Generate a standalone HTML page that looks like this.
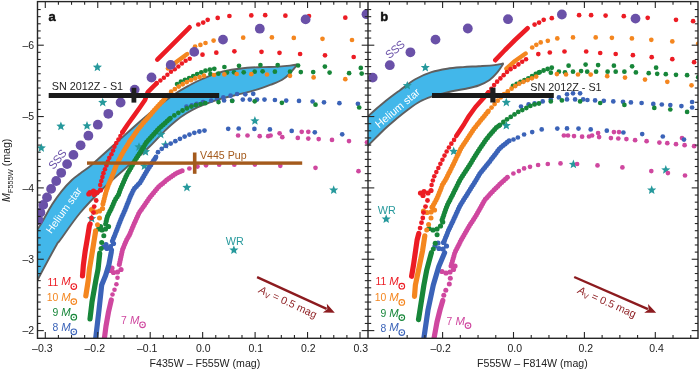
<!DOCTYPE html>
<html><head><meta charset="utf-8"><style>
html,body{margin:0;padding:0;background:#fff;}
body{width:700px;height:371px;overflow:hidden;position:relative;font-family:"Liberation Sans",sans-serif;}
svg{position:absolute;left:0;top:0;will-change:transform;}
text{font-family:"Liberation Sans",sans-serif;}
</style></head><body>
<svg width="700" height="371" viewBox="0 0 700 371">
<defs>
<clipPath id="ca"><rect x="37.5" y="1.6" width="330.5" height="336.7"/></clipPath>
<clipPath id="cb"><rect x="368" y="1.6" width="330" height="336.7"/></clipPath>
</defs>
<rect width="700" height="371" fill="#fff"/>
<g clip-path="url(#ca)">
<path d="M25,246 C27.32,242.87 35.65,231.92 38.9,227.2 C42.15,222.48 42.3,221.48 44.5,217.7 C46.7,213.92 49.27,208.9 52.1,204.5 C54.93,200.1 58.2,195.38 61.5,191.3 C64.8,187.22 68.78,182.97 71.9,180 C75.02,177.03 77.02,175.93 80.2,173.5 C83.38,171.07 87.17,168.57 91,165.4 C94.83,162.23 97.57,159.55 103.2,154.5 C108.83,149.45 118.67,140.6 124.8,135.1 C130.93,129.6 134.47,126.27 140,121.5 C145.53,116.73 151.95,111.25 158,106.5 C164.05,101.75 170.97,96.58 176.3,93 C181.63,89.42 186.05,87.17 190,85 C193.95,82.83 195.72,81.88 200,80 C204.28,78.12 210.47,75.4 215.7,73.7 C220.93,72 226.15,70.8 231.4,69.8 C236.65,68.8 241.95,68.15 247.2,67.7 C252.45,67.25 257.67,67.28 262.9,67.1 C268.13,66.92 274.08,66.85 278.6,66.6 C283.12,66.35 286.93,65.95 290,65.6 C293.07,65.25 295.83,64.68 297,64.5 L297,65 C295.77,66.45 292.13,71.2 289.6,73.7 C287.07,76.2 284.93,78.17 281.8,80 C278.67,81.83 275.27,83 270.8,84.7 C266.33,86.4 260.25,88.62 255,90.2 C249.75,91.78 245.32,92.68 239.3,94.2 C233.28,95.72 224.08,97.82 218.9,99.3 C213.72,100.78 211.78,101.75 208.2,103.1 C204.62,104.45 201,105.7 197.4,107.4 C193.8,109.1 190.2,111.05 186.6,113.3 C183,115.55 179.4,118.02 175.8,120.9 C172.2,123.78 169.62,126.08 165,130.6 C160.38,135.12 154.72,141.68 148.1,148 C141.48,154.32 132.88,161.67 125.3,168.5 C117.72,175.33 110.15,181.58 102.6,189 C95.05,196.42 87.07,204.5 80,213 C72.93,221.5 64.17,234.58 60.2,240 C56.23,245.42 60.07,238.67 56.2,245.5 C52.33,252.33 41.37,272.75 37,281 C32.63,289.25 31.17,292.67 30,295 Z" fill="#42b7ea" stroke="#5f5f5f" stroke-width="1.9" stroke-linejoin="round"/>
</g>
<g clip-path="url(#ca)">
<polygon points="97.4,62.5 98.64,65.59 101.97,65.82 99.41,67.95 100.22,71.18 97.4,69.41 94.58,71.18 95.39,67.95 92.83,65.82 96.16,65.59" fill="#26999c"/>
<polygon points="102.7,97.7 103.94,100.79 107.27,101.02 104.71,103.15 105.52,106.38 102.7,104.61 99.88,106.38 100.69,103.15 98.13,101.02 101.46,100.79" fill="#26999c"/>
<polygon points="60.9,121.5 62.14,124.59 65.47,124.82 62.91,126.95 63.72,130.18 60.9,128.41 58.08,130.18 58.89,126.95 56.33,124.82 59.66,124.59" fill="#26999c"/>
<polygon points="87,121.1 88.24,124.19 91.57,124.42 89.01,126.55 89.82,129.78 87,128.01 84.18,129.78 84.99,126.55 82.43,124.42 85.76,124.19" fill="#26999c"/>
<polygon points="41.3,143.2 42.54,146.29 45.87,146.52 43.31,148.65 44.12,151.88 41.3,150.11 38.48,151.88 39.29,148.65 36.73,146.52 40.06,146.29" fill="#26999c"/>
<polygon points="145.5,147 146.74,150.09 150.07,150.32 147.51,152.45 148.32,155.68 145.5,153.91 142.68,155.68 143.49,152.45 140.93,150.32 144.26,150.09" fill="#26999c"/>
<polygon points="139,142.2 140.24,145.29 143.57,145.52 141.01,147.65 141.82,150.88 139,149.11 136.18,150.88 136.99,147.65 134.43,145.52 137.76,145.29" fill="#26999c"/>
<polygon points="144.4,161.4 145.64,164.49 148.97,164.72 146.41,166.85 147.22,170.08 144.4,168.31 141.58,170.08 142.39,166.85 139.83,164.72 143.16,164.49" fill="#26999c"/>
<polygon points="160.8,129.7 162.04,132.79 165.37,133.02 162.81,135.15 163.62,138.38 160.8,136.61 157.98,138.38 158.79,135.15 156.23,133.02 159.56,132.79" fill="#26999c"/>
<polygon points="165.5,140.1 166.74,143.19 170.07,143.42 167.51,145.55 168.32,148.78 165.5,147.01 162.68,148.78 163.49,145.55 160.93,143.42 164.26,143.19" fill="#26999c"/>
<polygon points="254.9,116.1 256.14,119.19 259.47,119.42 256.91,121.55 257.72,124.78 254.9,123.01 252.08,124.78 252.89,121.55 250.33,119.42 253.66,119.19" fill="#26999c"/>
<polygon points="333.7,185.3 334.94,188.39 338.27,188.62 335.71,190.75 336.52,193.98 333.7,192.21 330.88,193.98 331.69,190.75 329.13,188.62 332.46,188.39" fill="#26999c"/>
<polygon points="186.9,182.7 188.14,185.79 191.47,186.02 188.91,188.15 189.72,191.38 186.9,189.61 184.08,191.38 184.89,188.15 182.33,186.02 185.66,185.79" fill="#26999c"/>
<polygon points="233.9,245.3 235.14,248.39 238.47,248.62 235.91,250.75 236.72,253.98 233.9,252.21 231.08,253.98 231.89,250.75 229.33,248.62 232.66,248.39" fill="#26999c"/>
<polygon points="91.7,213.9 92.94,216.99 96.27,217.22 93.71,219.35 94.52,222.58 91.7,220.81 88.88,222.58 89.69,219.35 87.13,217.22 90.46,216.99" fill="#26999c"/>
<polyline points="104.2,340 106,326 108.5,312 111.3,300" fill="none" stroke="#cf479f" stroke-width="5.2" stroke-linecap="round" stroke-linejoin="round"/>
<circle cx="112.5" cy="294.5" r="2.3" fill="#cf479f"/>
<circle cx="114.5" cy="289.8" r="2.3" fill="#cf479f"/>
<circle cx="116.4" cy="284.2" r="2.3" fill="#cf479f"/>
<circle cx="117.5" cy="277.7" r="2.3" fill="#cf479f"/>
<circle cx="110" cy="270.5" r="2.6" fill="#cf479f"/>
<circle cx="113.5" cy="272.5" r="2.6" fill="#cf479f"/>
<circle cx="117.5" cy="272" r="2.6" fill="#cf479f"/>
<circle cx="121" cy="269.5" r="2.6" fill="#cf479f"/>
<circle cx="112" cy="268" r="2.6" fill="#cf479f"/>
<circle cx="119.3" cy="264.6" r="2.5" fill="#cf479f"/>
<circle cx="119.84" cy="262.06" r="2.5" fill="#cf479f"/>
<circle cx="120.38" cy="259.51" r="2.5" fill="#cf479f"/>
<circle cx="120.92" cy="256.97" r="2.5" fill="#cf479f"/>
<circle cx="121.46" cy="254.43" r="2.5" fill="#cf479f"/>
<circle cx="122" cy="251.88" r="2.5" fill="#cf479f"/>
<circle cx="122.65" cy="249.37" r="2.5" fill="#cf479f"/>
<circle cx="123.62" cy="246.96" r="2.5" fill="#cf479f"/>
<circle cx="124.58" cy="244.55" r="2.5" fill="#cf479f"/>
<circle cx="125.55" cy="242.13" r="2.5" fill="#cf479f"/>
<circle cx="126.68" cy="239.8" r="2.5" fill="#cf479f"/>
<circle cx="127.96" cy="237.54" r="2.5" fill="#cf479f"/>
<circle cx="129.24" cy="235.27" r="2.5" fill="#cf479f"/>
<circle cx="130.28" cy="232.89" r="2.5" fill="#cf479f"/>
<circle cx="131.28" cy="230.49" r="2.5" fill="#cf479f"/>
<circle cx="132.29" cy="228.09" r="2.5" fill="#cf479f"/>
<circle cx="133.29" cy="225.7" r="2.5" fill="#cf479f"/>
<circle cx="134.32" cy="223.31" r="2.5" fill="#cf479f"/>
<circle cx="135.39" cy="220.94" r="2.5" fill="#cf479f"/>
<circle cx="136.47" cy="218.57" r="2.5" fill="#cf479f"/>
<circle cx="137.55" cy="216.21" r="2.5" fill="#cf479f"/>
<circle cx="138.63" cy="213.84" r="2.5" fill="#cf479f"/>
<circle cx="139.94" cy="211.61" r="2.5" fill="#cf479f"/>
<circle cx="141.45" cy="209.49" r="2.5" fill="#cf479f"/>
<circle cx="142.95" cy="207.37" r="2.5" fill="#cf479f"/>
<circle cx="144.43" cy="205.23" r="2.5" fill="#cf479f"/>
<circle cx="145.88" cy="203.08" r="2.5" fill="#cf479f"/>
<circle cx="147.34" cy="200.93" r="2.5" fill="#cf479f"/>
<circle cx="148.8" cy="198.77" r="2.5" fill="#cf479f"/>
<circle cx="150.29" cy="196.65" r="2.5" fill="#cf479f"/>
<circle cx="151.95" cy="194.64" r="2.5" fill="#cf479f"/>
<circle cx="153.61" cy="192.64" r="2.5" fill="#cf479f"/>
<circle cx="155.26" cy="190.63" r="2.5" fill="#cf479f"/>
<circle cx="156.92" cy="188.63" r="2.5" fill="#cf479f"/>
<circle cx="158.67" cy="186.72" r="2.5" fill="#cf479f"/>
<circle cx="160.67" cy="185.06" r="2.5" fill="#cf479f"/>
<circle cx="162.66" cy="183.39" r="2.5" fill="#cf479f"/>
<circle cx="164.66" cy="181.72" r="2.5" fill="#cf479f"/>
<circle cx="166.65" cy="180.06" r="2.5" fill="#cf479f"/>
<circle cx="168.71" cy="178.47" r="2.5" fill="#cf479f"/>
<circle cx="170.85" cy="176.99" r="2.5" fill="#cf479f"/>
<circle cx="172.99" cy="175.51" r="2.5" fill="#cf479f"/>
<circle cx="175.13" cy="174.03" r="2.5" fill="#cf479f"/>
<circle cx="177.41" cy="172.82" r="2.5" fill="#cf479f"/>
<circle cx="179.78" cy="171.75" r="2.5" fill="#cf479f"/>
<circle cx="182.15" cy="170.67" r="2.5" fill="#cf479f"/>
<circle cx="189.4" cy="168.5" r="2.35" fill="#cf479f"/>
<circle cx="197.5" cy="166.6" r="2.35" fill="#cf479f"/>
<circle cx="206" cy="165.3" r="2.35" fill="#cf479f"/>
<circle cx="219.2" cy="164.7" r="2.35" fill="#cf479f"/>
<circle cx="234.3" cy="164.7" r="2.35" fill="#cf479f"/>
<circle cx="254.9" cy="164.6" r="2.35" fill="#cf479f"/>
<circle cx="280.3" cy="165.8" r="2.35" fill="#cf479f"/>
<circle cx="315.5" cy="167.8" r="2.35" fill="#cf479f"/>
<circle cx="358.5" cy="171.2" r="2.35" fill="#cf479f"/>
<circle cx="238.1" cy="135.5" r="2.35" fill="#cf479f"/>
<circle cx="247.5" cy="135.5" r="2.35" fill="#cf479f"/>
<circle cx="259.7" cy="136.2" r="2.35" fill="#cf479f"/>
<circle cx="268.2" cy="136.2" r="2.35" fill="#cf479f"/>
<circle cx="270.6" cy="135.5" r="2.35" fill="#cf479f"/>
<circle cx="279.6" cy="133.3" r="2.35" fill="#cf479f"/>
<circle cx="282.3" cy="137.2" r="2.35" fill="#cf479f"/>
<circle cx="297.8" cy="137.9" r="2.35" fill="#cf479f"/>
<circle cx="301.7" cy="131.8" r="2.35" fill="#cf479f"/>
<circle cx="308.3" cy="131.8" r="2.35" fill="#cf479f"/>
<circle cx="308.3" cy="138.6" r="2.35" fill="#cf479f"/>
<circle cx="318.7" cy="139.1" r="2.35" fill="#cf479f"/>
<circle cx="332" cy="139.9" r="2.35" fill="#cf479f"/>
<circle cx="349" cy="141.1" r="2.35" fill="#cf479f"/>
<circle cx="367" cy="142.3" r="2.35" fill="#cf479f"/>
<polyline points="95.5,340 99,310 101.7,285 105.6,275.5 108.9,264.8 111.2,252.5" fill="none" stroke="#3b63b8" stroke-width="5.2" stroke-linecap="round" stroke-linejoin="round"/>
<circle cx="103.5" cy="247" r="2.6" fill="#3b63b8"/>
<circle cx="107" cy="248.5" r="2.6" fill="#3b63b8"/>
<circle cx="110.5" cy="246.5" r="2.6" fill="#3b63b8"/>
<circle cx="113.5" cy="243.5" r="2.6" fill="#3b63b8"/>
<circle cx="106" cy="244.5" r="2.6" fill="#3b63b8"/>
<circle cx="111.5" cy="250" r="2.6" fill="#3b63b8"/>
<circle cx="112.4" cy="241" r="2.5" fill="#3b63b8"/>
<circle cx="113.37" cy="238.59" r="2.5" fill="#3b63b8"/>
<circle cx="114.33" cy="236.17" r="2.5" fill="#3b63b8"/>
<circle cx="115.3" cy="233.76" r="2.5" fill="#3b63b8"/>
<circle cx="116.25" cy="231.34" r="2.5" fill="#3b63b8"/>
<circle cx="117.18" cy="228.91" r="2.5" fill="#3b63b8"/>
<circle cx="118.11" cy="226.48" r="2.5" fill="#3b63b8"/>
<circle cx="119.04" cy="224.06" r="2.5" fill="#3b63b8"/>
<circle cx="119.98" cy="221.63" r="2.5" fill="#3b63b8"/>
<circle cx="120.94" cy="219.22" r="2.5" fill="#3b63b8"/>
<circle cx="121.99" cy="216.84" r="2.5" fill="#3b63b8"/>
<circle cx="123.04" cy="214.46" r="2.5" fill="#3b63b8"/>
<circle cx="124.09" cy="212.08" r="2.5" fill="#3b63b8"/>
<circle cx="125.12" cy="209.69" r="2.5" fill="#3b63b8"/>
<circle cx="126.09" cy="207.28" r="2.5" fill="#3b63b8"/>
<circle cx="127.05" cy="204.87" r="2.5" fill="#3b63b8"/>
<circle cx="128.02" cy="202.45" r="2.5" fill="#3b63b8"/>
<circle cx="128.99" cy="200.04" r="2.5" fill="#3b63b8"/>
<circle cx="129.95" cy="197.62" r="2.5" fill="#3b63b8"/>
<circle cx="130.92" cy="195.21" r="2.5" fill="#3b63b8"/>
<circle cx="132.06" cy="192.88" r="2.5" fill="#3b63b8"/>
<circle cx="133.22" cy="190.55" r="2.5" fill="#3b63b8"/>
<circle cx="134.59" cy="188.37" r="2.5" fill="#3b63b8"/>
<circle cx="136.37" cy="186.47" r="2.5" fill="#3b63b8"/>
<circle cx="138.15" cy="184.57" r="2.5" fill="#3b63b8"/>
<circle cx="139.93" cy="182.68" r="2.5" fill="#3b63b8"/>
<circle cx="141.26" cy="180.45" r="2.5" fill="#3b63b8"/>
<circle cx="142.58" cy="178.21" r="2.5" fill="#3b63b8"/>
<circle cx="143.89" cy="175.96" r="2.5" fill="#3b63b8"/>
<circle cx="145.21" cy="173.72" r="2.5" fill="#3b63b8"/>
<circle cx="146.52" cy="171.48" r="2.5" fill="#3b63b8"/>
<circle cx="147.92" cy="169.28" r="2.5" fill="#3b63b8"/>
<circle cx="149.33" cy="167.1" r="2.5" fill="#3b63b8"/>
<circle cx="150.75" cy="164.92" r="2.5" fill="#3b63b8"/>
<circle cx="152.17" cy="162.75" r="2.5" fill="#3b63b8"/>
<circle cx="153.61" cy="160.58" r="2.5" fill="#3b63b8"/>
<circle cx="155.05" cy="158.42" r="2.5" fill="#3b63b8"/>
<circle cx="156" cy="157" r="2.4" fill="#3b63b8"/>
<circle cx="157.99" cy="152.2" r="2.4" fill="#3b63b8"/>
<circle cx="161.76" cy="148.81" r="2.4" fill="#3b63b8"/>
<circle cx="166.09" cy="145.95" r="2.4" fill="#3b63b8"/>
<circle cx="170.73" cy="143.6" r="2.4" fill="#3b63b8"/>
<circle cx="175.34" cy="141.2" r="2.4" fill="#3b63b8"/>
<circle cx="179.95" cy="138.79" r="2.4" fill="#3b63b8"/>
<circle cx="184.65" cy="136.57" r="2.4" fill="#3b63b8"/>
<circle cx="189.46" cy="134.6" r="2.4" fill="#3b63b8"/>
<circle cx="194.34" cy="132.82" r="2.4" fill="#3b63b8"/>
<circle cx="199.36" cy="131.51" r="2.4" fill="#3b63b8"/>
<circle cx="204.48" cy="130.61" r="2.4" fill="#3b63b8"/>
<circle cx="228.2" cy="128.8" r="2.35" fill="#3b63b8"/>
<circle cx="238.7" cy="128.5" r="2.35" fill="#3b63b8"/>
<circle cx="254.4" cy="128.9" r="2.35" fill="#3b63b8"/>
<circle cx="269.9" cy="129.4" r="2.35" fill="#3b63b8"/>
<circle cx="291.7" cy="130.9" r="2.35" fill="#3b63b8"/>
<circle cx="314.8" cy="132.3" r="2.35" fill="#3b63b8"/>
<circle cx="342.2" cy="134.3" r="2.35" fill="#3b63b8"/>
<circle cx="186.5" cy="106.5" r="2.35" fill="#3b63b8"/>
<circle cx="191.8" cy="105.4" r="2.35" fill="#3b63b8"/>
<circle cx="196.6" cy="103.8" r="2.35" fill="#3b63b8"/>
<circle cx="203.1" cy="102.1" r="2.35" fill="#3b63b8"/>
<circle cx="211.2" cy="100.5" r="2.35" fill="#3b63b8"/>
<circle cx="217" cy="99" r="2.35" fill="#3b63b8"/>
<circle cx="223.3" cy="97.3" r="2.35" fill="#3b63b8"/>
<circle cx="230.6" cy="95.7" r="2.35" fill="#3b63b8"/>
<circle cx="237.1" cy="94" r="2.35" fill="#3b63b8"/>
<circle cx="245.3" cy="94.3" r="2.35" fill="#3b63b8"/>
<circle cx="253.2" cy="93.8" r="2.35" fill="#3b63b8"/>
<circle cx="224.1" cy="100.5" r="2.35" fill="#3b63b8"/>
<circle cx="232.2" cy="100.5" r="2.35" fill="#3b63b8"/>
<circle cx="242.8" cy="99.6" r="2.35" fill="#3b63b8"/>
<circle cx="249.8" cy="99.6" r="2.35" fill="#3b63b8"/>
<circle cx="257" cy="99.6" r="2.35" fill="#3b63b8"/>
<circle cx="264.5" cy="99.6" r="2.35" fill="#3b63b8"/>
<circle cx="274.9" cy="100" r="2.35" fill="#3b63b8"/>
<circle cx="286.2" cy="100.6" r="2.35" fill="#3b63b8"/>
<circle cx="299" cy="100.9" r="2.35" fill="#3b63b8"/>
<circle cx="312.6" cy="101.5" r="2.35" fill="#3b63b8"/>
<circle cx="324" cy="102.3" r="2.35" fill="#3b63b8"/>
<circle cx="339.4" cy="103.2" r="2.35" fill="#3b63b8"/>
<circle cx="357.9" cy="103.8" r="2.35" fill="#3b63b8"/>
<polyline points="90,319 92,302 95.9,280 98.1,269.1 99.7,253.2" fill="none" stroke="#178639" stroke-width="5.2" stroke-linecap="round" stroke-linejoin="round"/>
<circle cx="101.1" cy="248.5" r="2.5" fill="#178639"/>
<circle cx="101.7" cy="242.4" r="2.5" fill="#178639"/>
<circle cx="103.8" cy="235.7" r="2.5" fill="#178639"/>
<circle cx="98.5" cy="229" r="2.6" fill="#178639"/>
<circle cx="102" cy="230" r="2.6" fill="#178639"/>
<circle cx="105.5" cy="229" r="2.6" fill="#178639"/>
<circle cx="108.5" cy="226.5" r="2.6" fill="#178639"/>
<circle cx="100.5" cy="226.5" r="2.6" fill="#178639"/>
<circle cx="105.6" cy="224" r="2.5" fill="#178639"/>
<circle cx="106.2" cy="221.37" r="2.5" fill="#178639"/>
<circle cx="106.81" cy="218.74" r="2.5" fill="#178639"/>
<circle cx="107.52" cy="216.15" r="2.5" fill="#178639"/>
<circle cx="108.72" cy="213.72" r="2.5" fill="#178639"/>
<circle cx="109.92" cy="211.3" r="2.5" fill="#178639"/>
<circle cx="111.11" cy="208.88" r="2.5" fill="#178639"/>
<circle cx="112.23" cy="206.43" r="2.5" fill="#178639"/>
<circle cx="113.29" cy="203.94" r="2.5" fill="#178639"/>
<circle cx="114.35" cy="201.46" r="2.5" fill="#178639"/>
<circle cx="115.66" cy="199.11" r="2.5" fill="#178639"/>
<circle cx="117.16" cy="196.87" r="2.5" fill="#178639"/>
<circle cx="118.55" cy="194.57" r="2.5" fill="#178639"/>
<circle cx="119.44" cy="192.02" r="2.5" fill="#178639"/>
<circle cx="120.34" cy="189.47" r="2.5" fill="#178639"/>
<circle cx="121.39" cy="186.99" r="2.5" fill="#178639"/>
<circle cx="122.49" cy="184.52" r="2.5" fill="#178639"/>
<circle cx="123.59" cy="182.05" r="2.5" fill="#178639"/>
<circle cx="124.68" cy="179.59" r="2.5" fill="#178639"/>
<circle cx="125.78" cy="177.12" r="2.5" fill="#178639"/>
<circle cx="126.88" cy="174.65" r="2.5" fill="#178639"/>
<circle cx="128.22" cy="172.31" r="2.5" fill="#178639"/>
<circle cx="129.56" cy="169.97" r="2.5" fill="#178639"/>
<circle cx="130.91" cy="167.63" r="2.5" fill="#178639"/>
<circle cx="132.26" cy="165.29" r="2.5" fill="#178639"/>
<circle cx="133.6" cy="162.95" r="2.5" fill="#178639"/>
<circle cx="134.95" cy="160.61" r="2.5" fill="#178639"/>
<circle cx="136.37" cy="158.31" r="2.5" fill="#178639"/>
<circle cx="137.81" cy="156.03" r="2.5" fill="#178639"/>
<circle cx="139.25" cy="153.74" r="2.5" fill="#178639"/>
<circle cx="140.69" cy="151.46" r="2.5" fill="#178639"/>
<circle cx="142.13" cy="149.18" r="2.5" fill="#178639"/>
<circle cx="143.57" cy="146.89" r="2.5" fill="#178639"/>
<circle cx="145.02" cy="144.61" r="2.5" fill="#178639"/>
<circle cx="146.46" cy="142.33" r="2.5" fill="#178639"/>
<circle cx="148.24" cy="140.3" r="2.5" fill="#178639"/>
<circle cx="150.06" cy="138.31" r="2.5" fill="#178639"/>
<circle cx="151.88" cy="136.31" r="2.5" fill="#178639"/>
<circle cx="153.7" cy="134.32" r="2.5" fill="#178639"/>
<circle cx="155.51" cy="132.32" r="2.5" fill="#178639"/>
<circle cx="157.33" cy="130.33" r="2.5" fill="#178639"/>
<circle cx="159.17" cy="128.35" r="2.5" fill="#178639"/>
<circle cx="161.16" cy="126.52" r="2.5" fill="#178639"/>
<circle cx="163.15" cy="124.7" r="2.5" fill="#178639"/>
<circle cx="165.14" cy="122.88" r="2.5" fill="#178639"/>
<circle cx="167.16" cy="121.08" r="2.5" fill="#178639"/>
<circle cx="169.18" cy="119.29" r="2.5" fill="#178639"/>
<circle cx="170.4" cy="118.2" r="2.4" fill="#178639"/>
<circle cx="174.33" cy="115.44" r="2.4" fill="#178639"/>
<circle cx="178.38" cy="112.87" r="2.4" fill="#178639"/>
<circle cx="182.55" cy="110.51" r="2.4" fill="#178639"/>
<circle cx="186.87" cy="108.41" r="2.4" fill="#178639"/>
<circle cx="191.31" cy="106.61" r="2.4" fill="#178639"/>
<circle cx="195.89" cy="105.17" r="2.4" fill="#178639"/>
<circle cx="200.56" cy="104.08" r="2.4" fill="#178639"/>
<circle cx="205.27" cy="103.15" r="2.4" fill="#178639"/>
<circle cx="218.5" cy="102.1" r="2.35" fill="#178639"/>
<circle cx="232.2" cy="101" r="2.35" fill="#178639"/>
<circle cx="254.7" cy="101.3" r="2.35" fill="#178639"/>
<circle cx="281.9" cy="102.8" r="2.35" fill="#178639"/>
<circle cx="315.5" cy="104.7" r="2.35" fill="#178639"/>
<circle cx="359.2" cy="107.5" r="2.35" fill="#178639"/>
<circle cx="177.1" cy="84.1" r="2.4" fill="#178639"/>
<circle cx="180.93" cy="81.74" r="2.4" fill="#178639"/>
<circle cx="184.99" cy="79.79" r="2.4" fill="#178639"/>
<circle cx="189.18" cy="78.17" r="2.4" fill="#178639"/>
<circle cx="193.23" cy="76.24" r="2.4" fill="#178639"/>
<circle cx="197.18" cy="74.09" r="2.4" fill="#178639"/>
<circle cx="201.3" cy="72.3" r="2.4" fill="#178639"/>
<circle cx="205.5" cy="70.67" r="2.4" fill="#178639"/>
<circle cx="209.88" cy="69.67" r="2.4" fill="#178639"/>
<circle cx="214.29" cy="68.8" r="2.4" fill="#178639"/>
<circle cx="224.4" cy="67" r="2.35" fill="#178639"/>
<circle cx="239" cy="65.8" r="2.35" fill="#178639"/>
<circle cx="260.4" cy="65.1" r="2.35" fill="#178639"/>
<circle cx="277.7" cy="65.1" r="2.35" fill="#178639"/>
<circle cx="298.1" cy="65.5" r="2.35" fill="#178639"/>
<circle cx="324.9" cy="66.6" r="2.35" fill="#178639"/>
<circle cx="360.8" cy="67.9" r="2.35" fill="#178639"/>
<circle cx="210.4" cy="74" r="2.35" fill="#178639"/>
<circle cx="218.3" cy="73.7" r="2.35" fill="#178639"/>
<circle cx="227" cy="72.6" r="2.35" fill="#178639"/>
<circle cx="234" cy="72.3" r="2.35" fill="#178639"/>
<circle cx="243.7" cy="72.3" r="2.35" fill="#178639"/>
<circle cx="254.7" cy="71.7" r="2.35" fill="#178639"/>
<circle cx="262.6" cy="71.3" r="2.35" fill="#178639"/>
<circle cx="274.9" cy="71.7" r="2.35" fill="#178639"/>
<circle cx="290" cy="71.7" r="2.35" fill="#178639"/>
<circle cx="300.8" cy="72.1" r="2.35" fill="#178639"/>
<circle cx="313.2" cy="72.1" r="2.35" fill="#178639"/>
<circle cx="329.6" cy="72.6" r="2.35" fill="#178639"/>
<circle cx="349.1" cy="73.2" r="2.35" fill="#178639"/>
<circle cx="361.7" cy="73.6" r="2.35" fill="#178639"/>
<polyline points="85.8,296 88.3,280 89.4,269.1 91.6,256.1 93.7,243.2 95.5,232" fill="none" stroke="#f4861f" stroke-width="5.2" stroke-linecap="round" stroke-linejoin="round"/>
<circle cx="95.5" cy="230.8" r="2.5" fill="#f4861f"/>
<circle cx="97.5" cy="224.8" r="2.5" fill="#f4861f"/>
<circle cx="99.5" cy="218" r="2.5" fill="#f4861f"/>
<circle cx="92.5" cy="210.5" r="2.6" fill="#f4861f"/>
<circle cx="96" cy="212" r="2.6" fill="#f4861f"/>
<circle cx="99.5" cy="211" r="2.6" fill="#f4861f"/>
<circle cx="102.5" cy="208.5" r="2.6" fill="#f4861f"/>
<circle cx="91.5" cy="209.5" r="2.6" fill="#f4861f"/>
<circle cx="102.9" cy="203.9" r="2.5" fill="#f4861f"/>
<circle cx="103.58" cy="201.29" r="2.5" fill="#f4861f"/>
<circle cx="104.25" cy="198.67" r="2.5" fill="#f4861f"/>
<circle cx="104.93" cy="196.06" r="2.5" fill="#f4861f"/>
<circle cx="105.6" cy="193.44" r="2.5" fill="#f4861f"/>
<circle cx="106.37" cy="190.86" r="2.5" fill="#f4861f"/>
<circle cx="107.22" cy="188.29" r="2.5" fill="#f4861f"/>
<circle cx="108.06" cy="185.73" r="2.5" fill="#f4861f"/>
<circle cx="109.09" cy="183.23" r="2.5" fill="#f4861f"/>
<circle cx="110.18" cy="180.77" r="2.5" fill="#f4861f"/>
<circle cx="111.28" cy="178.3" r="2.5" fill="#f4861f"/>
<circle cx="112.27" cy="175.79" r="2.5" fill="#f4861f"/>
<circle cx="113.22" cy="173.26" r="2.5" fill="#f4861f"/>
<circle cx="114.18" cy="170.74" r="2.5" fill="#f4861f"/>
<circle cx="115.14" cy="168.21" r="2.5" fill="#f4861f"/>
<circle cx="116.1" cy="165.69" r="2.5" fill="#f4861f"/>
<circle cx="117.25" cy="163.25" r="2.5" fill="#f4861f"/>
<circle cx="118.48" cy="160.85" r="2.5" fill="#f4861f"/>
<circle cx="119.72" cy="158.45" r="2.5" fill="#f4861f"/>
<circle cx="120.95" cy="156.04" r="2.5" fill="#f4861f"/>
<circle cx="122.21" cy="153.66" r="2.5" fill="#f4861f"/>
<circle cx="123.6" cy="151.35" r="2.5" fill="#f4861f"/>
<circle cx="125" cy="149.04" r="2.5" fill="#f4861f"/>
<circle cx="126.4" cy="146.73" r="2.5" fill="#f4861f"/>
<circle cx="127.8" cy="144.42" r="2.5" fill="#f4861f"/>
<circle cx="129.19" cy="142.11" r="2.5" fill="#f4861f"/>
<circle cx="130.71" cy="139.87" r="2.5" fill="#f4861f"/>
<circle cx="132.25" cy="137.66" r="2.5" fill="#f4861f"/>
<circle cx="133.8" cy="135.44" r="2.5" fill="#f4861f"/>
<circle cx="135.35" cy="133.23" r="2.5" fill="#f4861f"/>
<circle cx="136.89" cy="131.02" r="2.5" fill="#f4861f"/>
<circle cx="138.51" cy="128.86" r="2.5" fill="#f4861f"/>
<circle cx="140.19" cy="126.74" r="2.5" fill="#f4861f"/>
<circle cx="141.87" cy="124.63" r="2.5" fill="#f4861f"/>
<circle cx="143.56" cy="122.52" r="2.5" fill="#f4861f"/>
<circle cx="145.37" cy="120.52" r="2.5" fill="#f4861f"/>
<circle cx="147.18" cy="118.52" r="2.5" fill="#f4861f"/>
<circle cx="148.96" cy="116.49" r="2.5" fill="#f4861f"/>
<circle cx="150.7" cy="114.42" r="2.5" fill="#f4861f"/>
<circle cx="152.45" cy="112.36" r="2.5" fill="#f4861f"/>
<circle cx="154.19" cy="110.3" r="2.5" fill="#f4861f"/>
<circle cx="156" cy="108.3" r="2.5" fill="#f4861f"/>
<circle cx="157.84" cy="106.32" r="2.5" fill="#f4861f"/>
<circle cx="159.68" cy="104.35" r="2.5" fill="#f4861f"/>
<circle cx="161.51" cy="102.37" r="2.5" fill="#f4861f"/>
<circle cx="163.35" cy="100.38" r="2.5" fill="#f4861f"/>
<circle cx="165" cy="98.6" r="2.4" fill="#f4861f"/>
<circle cx="168.08" cy="95.19" r="2.4" fill="#f4861f"/>
<circle cx="171.16" cy="91.77" r="2.4" fill="#f4861f"/>
<circle cx="174.88" cy="89.08" r="2.4" fill="#f4861f"/>
<circle cx="178.73" cy="86.56" r="2.4" fill="#f4861f"/>
<circle cx="182.69" cy="84.23" r="2.4" fill="#f4861f"/>
<circle cx="186.78" cy="82.12" r="2.4" fill="#f4861f"/>
<circle cx="190.97" cy="80.22" r="2.4" fill="#f4861f"/>
<circle cx="195.19" cy="78.41" r="2.4" fill="#f4861f"/>
<circle cx="199.58" cy="77.03" r="2.4" fill="#f4861f"/>
<circle cx="203.97" cy="75.65" r="2.4" fill="#f4861f"/>
<circle cx="214" cy="75" r="2.35" fill="#f4861f"/>
<circle cx="224.4" cy="74.4" r="2.35" fill="#f4861f"/>
<circle cx="236.7" cy="74" r="2.35" fill="#f4861f"/>
<circle cx="251.3" cy="74.2" r="2.35" fill="#f4861f"/>
<circle cx="267" cy="74.5" r="2.35" fill="#f4861f"/>
<circle cx="290" cy="75.8" r="2.35" fill="#f4861f"/>
<circle cx="313.6" cy="77.4" r="2.35" fill="#f4861f"/>
<circle cx="345.3" cy="79.2" r="2.35" fill="#f4861f"/>
<polyline points="167.8,68.5 177,61.5 187.2,54" fill="none" stroke="#f4861f" stroke-width="4.4" stroke-linecap="round" stroke-linejoin="round"/>
<circle cx="195.1" cy="46.6" r="2.35" fill="#f4861f"/>
<circle cx="200.4" cy="44.9" r="2.35" fill="#f4861f"/>
<circle cx="205.5" cy="43" r="2.35" fill="#f4861f"/>
<circle cx="213.6" cy="40.6" r="2.35" fill="#f4861f"/>
<circle cx="243.2" cy="37.7" r="2.35" fill="#f4861f"/>
<circle cx="271.9" cy="37.4" r="2.35" fill="#f4861f"/>
<circle cx="293.8" cy="37.9" r="2.35" fill="#f4861f"/>
<circle cx="322.5" cy="38.8" r="2.35" fill="#f4861f"/>
<circle cx="352" cy="40" r="2.35" fill="#f4861f"/>
<polyline points="82.5,276 83.4,264.8 85.1,251.8 87.3,238.9 89.4,225.9 90.1,224" fill="none" stroke="#ec1c24" stroke-width="5.2" stroke-linecap="round" stroke-linejoin="round"/>
<circle cx="91.5" cy="218" r="2.4" fill="#ec1c24"/>
<circle cx="93.5" cy="212.6" r="2.4" fill="#ec1c24"/>
<circle cx="94.2" cy="206.6" r="2.4" fill="#ec1c24"/>
<circle cx="96.2" cy="200.5" r="2.4" fill="#ec1c24"/>
<circle cx="90" cy="192.5" r="2.6" fill="#ec1c24"/>
<circle cx="93.5" cy="191" r="2.6" fill="#ec1c24"/>
<circle cx="97" cy="192.5" r="2.6" fill="#ec1c24"/>
<circle cx="100.5" cy="190" r="2.6" fill="#ec1c24"/>
<circle cx="94" cy="194.5" r="2.6" fill="#ec1c24"/>
<circle cx="88.8" cy="194" r="2.6" fill="#ec1c24"/>
<circle cx="100.2" cy="185" r="2.3" fill="#ec1c24"/>
<circle cx="101.33" cy="181.06" r="2.3" fill="#ec1c24"/>
<circle cx="102.4" cy="177.1" r="2.3" fill="#ec1c24"/>
<circle cx="103.44" cy="173.13" r="2.3" fill="#ec1c24"/>
<circle cx="104.92" cy="169.31" r="2.3" fill="#ec1c24"/>
<circle cx="106.42" cy="165.5" r="2.3" fill="#ec1c24"/>
<circle cx="107.85" cy="161.65" r="2.3" fill="#ec1c24"/>
<circle cx="109.31" cy="157.83" r="2.3" fill="#ec1c24"/>
<circle cx="111.43" cy="154.32" r="2.3" fill="#ec1c24"/>
<circle cx="113.04" cy="150.57" r="2.3" fill="#ec1c24"/>
<circle cx="114.42" cy="146.71" r="2.3" fill="#ec1c24"/>
<circle cx="116.31" cy="143.1" r="2.3" fill="#ec1c24"/>
<circle cx="118.45" cy="139.61" r="2.3" fill="#ec1c24"/>
<circle cx="120.42" cy="136.01" r="2.3" fill="#ec1c24"/>
<circle cx="122.39" cy="132.41" r="2.3" fill="#ec1c24"/>
<polyline points="122.4,132.4 128,124 133.7,116.2 139.5,108 145,100 147.8,92.1 152.5,87.3 156.6,83.3" fill="none" stroke="#ec1c24" stroke-width="4.6" stroke-linecap="round" stroke-linejoin="round"/>
<circle cx="156.6" cy="83.3" r="2.25" fill="#ec1c24"/>
<circle cx="160.33" cy="80.6" r="2.25" fill="#ec1c24"/>
<circle cx="163.89" cy="77.7" r="2.25" fill="#ec1c24"/>
<circle cx="167.39" cy="74.72" r="2.25" fill="#ec1c24"/>
<circle cx="170.98" cy="71.85" r="2.25" fill="#ec1c24"/>
<circle cx="174.78" cy="69.26" r="2.25" fill="#ec1c24"/>
<circle cx="178.37" cy="66.38" r="2.25" fill="#ec1c24"/>
<circle cx="181.93" cy="63.47" r="2.25" fill="#ec1c24"/>
<circle cx="185.64" cy="60.77" r="2.25" fill="#ec1c24"/>
<circle cx="189.73" cy="58.67" r="2.25" fill="#ec1c24"/>
<circle cx="202.5" cy="54.7" r="2.35" fill="#ec1c24"/>
<circle cx="216.3" cy="52.7" r="2.35" fill="#ec1c24"/>
<circle cx="234.4" cy="51.3" r="2.35" fill="#ec1c24"/>
<circle cx="261.5" cy="51.8" r="2.35" fill="#ec1c24"/>
<circle cx="279.5" cy="52.8" r="2.35" fill="#ec1c24"/>
<circle cx="300.1" cy="54" r="2.35" fill="#ec1c24"/>
<circle cx="325" cy="55.3" r="2.35" fill="#ec1c24"/>
<circle cx="353.7" cy="57" r="2.35" fill="#ec1c24"/>
<polyline points="157.3,59.6 164.6,52.3 179.1,37.8 189.6,27.3" fill="none" stroke="#ec1c24" stroke-width="4.6" stroke-linecap="round" stroke-linejoin="round"/>
<circle cx="198.3" cy="24.5" r="2.35" fill="#ec1c24"/>
<circle cx="203.2" cy="22.6" r="2.35" fill="#ec1c24"/>
<circle cx="207.7" cy="19.8" r="2.35" fill="#ec1c24"/>
<circle cx="217.7" cy="17.9" r="2.35" fill="#ec1c24"/>
<circle cx="229.4" cy="16" r="2.35" fill="#ec1c24"/>
<circle cx="251.3" cy="15.4" r="2.35" fill="#ec1c24"/>
<circle cx="265.2" cy="15.2" r="2.35" fill="#ec1c24"/>
<circle cx="285.4" cy="15.7" r="2.35" fill="#ec1c24"/>
<circle cx="309" cy="16" r="2.35" fill="#ec1c24"/>
<circle cx="345.3" cy="17.7" r="2.35" fill="#ec1c24"/>
<circle cx="38.5" cy="220" r="4.9" fill="#6a51a8"/>
<circle cx="40.4" cy="212.5" r="4.9" fill="#6a51a8"/>
<circle cx="43.2" cy="204.9" r="4.9" fill="#6a51a8"/>
<circle cx="47" cy="197.4" r="4.9" fill="#6a51a8"/>
<circle cx="51.1" cy="188.9" r="4.9" fill="#6a51a8"/>
<circle cx="56.2" cy="181" r="4.9" fill="#6a51a8"/>
<circle cx="61.2" cy="172.8" r="4.9" fill="#6a51a8"/>
<circle cx="67.1" cy="164.1" r="4.9" fill="#6a51a8"/>
<circle cx="73.4" cy="154.9" r="4.9" fill="#6a51a8"/>
<circle cx="80.6" cy="145.3" r="4.9" fill="#6a51a8"/>
<circle cx="88.4" cy="135.7" r="4.9" fill="#6a51a8"/>
<circle cx="97.8" cy="124.7" r="4.9" fill="#6a51a8"/>
<circle cx="108.3" cy="113.8" r="4.9" fill="#6a51a8"/>
<circle cx="120.6" cy="102.5" r="4.9" fill="#6a51a8"/>
<circle cx="134.7" cy="89.6" r="4.9" fill="#6a51a8"/>
<circle cx="151.5" cy="77.5" r="4.9" fill="#6a51a8"/>
<circle cx="170.7" cy="64.9" r="4.9" fill="#6a51a8"/>
<circle cx="194.2" cy="51.9" r="4.9" fill="#6a51a8"/>
<circle cx="223" cy="39.6" r="4.9" fill="#6a51a8"/>
<circle cx="259.8" cy="28.7" r="4.9" fill="#6a51a8"/>
<circle cx="305.6" cy="19.4" r="4.9" fill="#6a51a8"/>
<circle cx="366.5" cy="14.2" r="4.9" fill="#6a51a8"/>
</g>
<rect x="48.7" y="93" width="170.5" height="5" fill="#1a1a1a"/>
<rect x="131.5" y="87.8" width="4.8" height="14.8" fill="#1e1e1e"/>
<rect x="87" y="161.4" width="215.2" height="3.4" fill="#a45a1c"/>
<rect x="192.9" y="152.5" width="3.6" height="21.3" fill="#a45a1c"/>
<g clip-path="url(#cb)">
<path d="M355,129 C357.12,126.92 362.6,121.15 367.7,116.5 C372.8,111.85 380.22,105.48 385.6,101.1 C390.98,96.72 394.98,93.88 400,90.2 C405.02,86.52 410.47,82 415.7,79 C420.93,76 426.15,73.92 431.4,72.2 C436.65,70.48 441.95,69.55 447.2,68.7 C452.45,67.85 457.67,67.52 462.9,67.1 C468.13,66.68 473.37,66.53 478.6,66.2 C483.83,65.87 490.23,65.55 494.3,65.1 C498.37,64.65 501.55,63.77 503,63.5 L503,64.3 C502.08,65.62 499.73,69.58 497.5,72.2 C495.27,74.82 492.75,77.78 489.6,80 C486.45,82.22 482.53,84.05 478.6,85.5 C474.67,86.95 470.45,87.73 466,88.7 C461.55,89.67 456.23,90.37 451.9,91.3 C447.57,92.23 443.32,93.43 440,94.3 C436.68,95.17 435.33,95.3 432,96.5 C428.67,97.7 423.92,99.38 420,101.5 C416.08,103.62 412.43,106.32 408.5,109.2 C404.57,112.08 400.45,115.42 396.4,118.8 C392.35,122.18 388.98,124.97 384.2,129.5 C379.42,134.03 372.57,141.17 367.7,146 C362.83,150.83 357.12,156.42 355,158.5 Z" fill="#42b7ea" stroke="#5f5f5f" stroke-width="1.9" stroke-linejoin="round"/>
</g>
<g clip-path="url(#cb)">
<polygon points="425.3,62.8 426.54,65.89 429.87,66.12 427.31,68.25 428.12,71.48 425.3,69.71 422.48,71.48 423.29,68.25 420.73,66.12 424.06,65.89" fill="#26999c"/>
<polygon points="407.3,80.9 408.54,83.99 411.87,84.22 409.31,86.35 410.12,89.58 407.3,87.81 404.48,89.58 405.29,86.35 402.73,84.22 406.06,83.99" fill="#26999c"/>
<polygon points="506.3,97.7 507.54,100.79 510.87,101.02 508.31,103.15 509.12,106.38 506.3,104.61 503.48,106.38 504.29,103.15 501.73,101.02 505.06,100.79" fill="#26999c"/>
<polygon points="506.3,120.8 507.54,123.89 510.87,124.12 508.31,126.25 509.12,129.48 506.3,127.71 503.48,129.48 504.29,126.25 501.73,124.12 505.06,123.89" fill="#26999c"/>
<polygon points="453.7,146.6 454.94,149.69 458.27,149.92 455.71,152.05 456.52,155.28 453.7,153.51 450.88,155.28 451.69,152.05 449.13,149.92 452.46,149.69" fill="#26999c"/>
<polygon points="573.4,159.6 574.64,162.69 577.97,162.92 575.41,165.05 576.22,168.28 573.4,166.51 570.58,168.28 571.39,165.05 568.83,162.92 572.16,162.69" fill="#26999c"/>
<polygon points="665.8,165.1 667.04,168.19 670.37,168.42 667.81,170.55 668.62,173.78 665.8,172.01 662.98,173.78 663.79,170.55 661.23,168.42 664.56,168.19" fill="#26999c"/>
<polygon points="651.7,185.3 652.94,188.39 656.27,188.62 653.71,190.75 654.52,193.98 651.7,192.21 648.88,193.98 649.69,190.75 647.13,188.62 650.46,188.39" fill="#26999c"/>
<polygon points="386.2,214.3 387.44,217.39 390.77,217.62 388.21,219.75 389.02,222.98 386.2,221.21 383.38,222.98 384.19,219.75 381.63,217.62 384.96,217.39" fill="#26999c"/>
<polyline points="433.7,340 437,322 440,310 442.8,300.4" fill="none" stroke="#cf479f" stroke-width="5.2" stroke-linecap="round" stroke-linejoin="round"/>
<circle cx="443.8" cy="295.3" r="2.5" fill="#cf479f"/>
<circle cx="445.8" cy="290.3" r="2.5" fill="#cf479f"/>
<circle cx="449.3" cy="283.9" r="2.5" fill="#cf479f"/>
<circle cx="450.3" cy="278.2" r="2.5" fill="#cf479f"/>
<circle cx="442" cy="271.5" r="2.6" fill="#cf479f"/>
<circle cx="446" cy="273" r="2.6" fill="#cf479f"/>
<circle cx="450" cy="272" r="2.6" fill="#cf479f"/>
<circle cx="453.5" cy="269.5" r="2.6" fill="#cf479f"/>
<circle cx="455" cy="266" r="2.6" fill="#cf479f"/>
<circle cx="451" cy="266" r="2.5" fill="#cf479f"/>
<circle cx="451.72" cy="263.5" r="2.5" fill="#cf479f"/>
<circle cx="452.44" cy="261" r="2.5" fill="#cf479f"/>
<circle cx="453.16" cy="258.51" r="2.5" fill="#cf479f"/>
<circle cx="453.89" cy="256.01" r="2.5" fill="#cf479f"/>
<circle cx="454.61" cy="253.51" r="2.5" fill="#cf479f"/>
<circle cx="455.59" cy="251.12" r="2.5" fill="#cf479f"/>
<circle cx="456.76" cy="248.79" r="2.5" fill="#cf479f"/>
<circle cx="457.92" cy="246.46" r="2.5" fill="#cf479f"/>
<circle cx="459.08" cy="244.14" r="2.5" fill="#cf479f"/>
<circle cx="460.24" cy="241.81" r="2.5" fill="#cf479f"/>
<circle cx="461.45" cy="239.51" r="2.5" fill="#cf479f"/>
<circle cx="462.75" cy="237.26" r="2.5" fill="#cf479f"/>
<circle cx="464.04" cy="235" r="2.5" fill="#cf479f"/>
<circle cx="465.34" cy="232.75" r="2.5" fill="#cf479f"/>
<circle cx="466.63" cy="230.49" r="2.5" fill="#cf479f"/>
<circle cx="467.93" cy="228.24" r="2.5" fill="#cf479f"/>
<circle cx="469.24" cy="225.99" r="2.5" fill="#cf479f"/>
<circle cx="470.66" cy="223.82" r="2.5" fill="#cf479f"/>
<circle cx="472.08" cy="221.64" r="2.5" fill="#cf479f"/>
<circle cx="473.51" cy="219.47" r="2.5" fill="#cf479f"/>
<circle cx="474.93" cy="217.29" r="2.5" fill="#cf479f"/>
<circle cx="476.33" cy="215.1" r="2.5" fill="#cf479f"/>
<circle cx="477.6" cy="212.83" r="2.5" fill="#cf479f"/>
<circle cx="478.88" cy="210.57" r="2.5" fill="#cf479f"/>
<circle cx="480.14" cy="208.29" r="2.5" fill="#cf479f"/>
<circle cx="481.39" cy="206.02" r="2.5" fill="#cf479f"/>
<circle cx="482.64" cy="203.74" r="2.5" fill="#cf479f"/>
<circle cx="483.9" cy="201.46" r="2.5" fill="#cf479f"/>
<circle cx="485.33" cy="199.31" r="2.5" fill="#cf479f"/>
<circle cx="487.08" cy="197.39" r="2.5" fill="#cf479f"/>
<circle cx="488.83" cy="195.47" r="2.5" fill="#cf479f"/>
<circle cx="490.59" cy="193.55" r="2.5" fill="#cf479f"/>
<circle cx="492.36" cy="191.64" r="2.5" fill="#cf479f"/>
<circle cx="494.2" cy="189.8" r="2.5" fill="#cf479f"/>
<circle cx="496.03" cy="187.97" r="2.5" fill="#cf479f"/>
<circle cx="497.87" cy="186.13" r="2.5" fill="#cf479f"/>
<circle cx="499.71" cy="184.29" r="2.5" fill="#cf479f"/>
<circle cx="501.63" cy="182.54" r="2.5" fill="#cf479f"/>
<circle cx="503.57" cy="180.81" r="2.5" fill="#cf479f"/>
<circle cx="505.51" cy="179.08" r="2.5" fill="#cf479f"/>
<circle cx="507.45" cy="177.35" r="2.5" fill="#cf479f"/>
<circle cx="513.4" cy="173.5" r="2.35" fill="#cf479f"/>
<circle cx="518.9" cy="171.1" r="2.35" fill="#cf479f"/>
<circle cx="524.1" cy="168.4" r="2.35" fill="#cf479f"/>
<circle cx="530" cy="166.8" r="2.35" fill="#cf479f"/>
<circle cx="538.1" cy="165" r="2.35" fill="#cf479f"/>
<circle cx="547.8" cy="164" r="2.35" fill="#cf479f"/>
<circle cx="560.5" cy="163.4" r="2.35" fill="#cf479f"/>
<circle cx="577.1" cy="164" r="2.35" fill="#cf479f"/>
<circle cx="597.5" cy="165.4" r="2.35" fill="#cf479f"/>
<circle cx="622.4" cy="167.4" r="2.35" fill="#cf479f"/>
<circle cx="651.3" cy="171.1" r="2.35" fill="#cf479f"/>
<circle cx="667.9" cy="173.1" r="2.35" fill="#cf479f"/>
<circle cx="685" cy="175.5" r="2.35" fill="#cf479f"/>
<circle cx="563.9" cy="135.5" r="2.35" fill="#cf479f"/>
<circle cx="568" cy="135.5" r="2.35" fill="#cf479f"/>
<circle cx="574" cy="136.1" r="2.35" fill="#cf479f"/>
<circle cx="582.1" cy="136.7" r="2.35" fill="#cf479f"/>
<circle cx="589" cy="136.5" r="2.35" fill="#cf479f"/>
<circle cx="592.1" cy="135.5" r="2.35" fill="#cf479f"/>
<circle cx="598.1" cy="133.1" r="2.35" fill="#cf479f"/>
<circle cx="599.1" cy="137.1" r="2.35" fill="#cf479f"/>
<circle cx="613.9" cy="132.1" r="2.35" fill="#cf479f"/>
<circle cx="619" cy="132.1" r="2.35" fill="#cf479f"/>
<circle cx="610.9" cy="138.1" r="2.35" fill="#cf479f"/>
<circle cx="618.3" cy="138.5" r="2.35" fill="#cf479f"/>
<circle cx="626.4" cy="139.1" r="2.35" fill="#cf479f"/>
<circle cx="635.1" cy="140.2" r="2.35" fill="#cf479f"/>
<circle cx="646.6" cy="141.2" r="2.35" fill="#cf479f"/>
<circle cx="659.4" cy="142.6" r="2.35" fill="#cf479f"/>
<circle cx="667.3" cy="143.2" r="2.35" fill="#cf479f"/>
<circle cx="676" cy="144.2" r="2.35" fill="#cf479f"/>
<circle cx="682" cy="138.1" r="2.35" fill="#cf479f"/>
<circle cx="684.6" cy="145.2" r="2.35" fill="#cf479f"/>
<circle cx="694.1" cy="146.2" r="2.35" fill="#cf479f"/>
<polyline points="423.6,340 428,310 433.3,285 438.8,266.6 444.6,252.7" fill="none" stroke="#3b63b8" stroke-width="5.2" stroke-linecap="round" stroke-linejoin="round"/>
<circle cx="435" cy="246" r="2.6" fill="#3b63b8"/>
<circle cx="439" cy="248.5" r="2.6" fill="#3b63b8"/>
<circle cx="443" cy="249" r="2.6" fill="#3b63b8"/>
<circle cx="446.5" cy="246" r="2.6" fill="#3b63b8"/>
<circle cx="443.7" cy="242.4" r="2.6" fill="#3b63b8"/>
<circle cx="438" cy="243" r="2.6" fill="#3b63b8"/>
<circle cx="443.7" cy="242.4" r="2.5" fill="#3b63b8"/>
<circle cx="444.66" cy="239.98" r="2.5" fill="#3b63b8"/>
<circle cx="445.62" cy="237.57" r="2.5" fill="#3b63b8"/>
<circle cx="446.59" cy="235.15" r="2.5" fill="#3b63b8"/>
<circle cx="447.55" cy="232.74" r="2.5" fill="#3b63b8"/>
<circle cx="448.51" cy="230.32" r="2.5" fill="#3b63b8"/>
<circle cx="449.62" cy="227.97" r="2.5" fill="#3b63b8"/>
<circle cx="450.74" cy="225.63" r="2.5" fill="#3b63b8"/>
<circle cx="451.86" cy="223.28" r="2.5" fill="#3b63b8"/>
<circle cx="452.99" cy="220.94" r="2.5" fill="#3b63b8"/>
<circle cx="454.07" cy="218.57" r="2.5" fill="#3b63b8"/>
<circle cx="455.15" cy="216.21" r="2.5" fill="#3b63b8"/>
<circle cx="456.23" cy="213.84" r="2.5" fill="#3b63b8"/>
<circle cx="457.31" cy="211.48" r="2.5" fill="#3b63b8"/>
<circle cx="458.39" cy="209.11" r="2.5" fill="#3b63b8"/>
<circle cx="459.47" cy="206.75" r="2.5" fill="#3b63b8"/>
<circle cx="460.73" cy="204.48" r="2.5" fill="#3b63b8"/>
<circle cx="462.11" cy="202.28" r="2.5" fill="#3b63b8"/>
<circle cx="463.49" cy="200.08" r="2.5" fill="#3b63b8"/>
<circle cx="464.88" cy="197.87" r="2.5" fill="#3b63b8"/>
<circle cx="466.26" cy="195.67" r="2.5" fill="#3b63b8"/>
<circle cx="467.64" cy="193.47" r="2.5" fill="#3b63b8"/>
<circle cx="469.03" cy="191.27" r="2.5" fill="#3b63b8"/>
<circle cx="470.41" cy="189.07" r="2.5" fill="#3b63b8"/>
<circle cx="471.79" cy="186.86" r="2.5" fill="#3b63b8"/>
<circle cx="473.17" cy="184.66" r="2.5" fill="#3b63b8"/>
<circle cx="474.56" cy="182.46" r="2.5" fill="#3b63b8"/>
<circle cx="475.94" cy="180.26" r="2.5" fill="#3b63b8"/>
<circle cx="477.27" cy="178.02" r="2.5" fill="#3b63b8"/>
<circle cx="478.59" cy="175.79" r="2.5" fill="#3b63b8"/>
<circle cx="479.91" cy="173.55" r="2.5" fill="#3b63b8"/>
<circle cx="481.53" cy="171.51" r="2.5" fill="#3b63b8"/>
<circle cx="483.16" cy="169.49" r="2.5" fill="#3b63b8"/>
<circle cx="484.79" cy="167.46" r="2.5" fill="#3b63b8"/>
<circle cx="486.42" cy="165.44" r="2.5" fill="#3b63b8"/>
<circle cx="488.05" cy="163.41" r="2.5" fill="#3b63b8"/>
<circle cx="489.69" cy="161.39" r="2.5" fill="#3b63b8"/>
<circle cx="491.28" cy="159.33" r="2.5" fill="#3b63b8"/>
<circle cx="492.86" cy="157.27" r="2.5" fill="#3b63b8"/>
<circle cx="494.44" cy="155.2" r="2.5" fill="#3b63b8"/>
<circle cx="496.02" cy="153.14" r="2.5" fill="#3b63b8"/>
<circle cx="497.6" cy="151.08" r="2.5" fill="#3b63b8"/>
<circle cx="499.18" cy="149.01" r="2.5" fill="#3b63b8"/>
<circle cx="501.03" cy="147.21" r="2.5" fill="#3b63b8"/>
<circle cx="503.05" cy="145.57" r="2.5" fill="#3b63b8"/>
<circle cx="505.07" cy="143.94" r="2.5" fill="#3b63b8"/>
<circle cx="507.1" cy="142.32" r="2.5" fill="#3b63b8"/>
<circle cx="509.13" cy="140.69" r="2.5" fill="#3b63b8"/>
<circle cx="513.5" cy="139.5" r="2.35" fill="#3b63b8"/>
<circle cx="517.9" cy="137.5" r="2.35" fill="#3b63b8"/>
<circle cx="524.1" cy="134.5" r="2.35" fill="#3b63b8"/>
<circle cx="532.2" cy="132.1" r="2.35" fill="#3b63b8"/>
<circle cx="541.7" cy="129.4" r="2.35" fill="#3b63b8"/>
<circle cx="557.3" cy="128.6" r="2.35" fill="#3b63b8"/>
<circle cx="567" cy="128.4" r="2.35" fill="#3b63b8"/>
<circle cx="578.5" cy="128.6" r="2.35" fill="#3b63b8"/>
<circle cx="590.7" cy="129.4" r="2.35" fill="#3b63b8"/>
<circle cx="606.8" cy="130.7" r="2.35" fill="#3b63b8"/>
<circle cx="623.4" cy="132.5" r="2.35" fill="#3b63b8"/>
<circle cx="642.2" cy="134.1" r="2.35" fill="#3b63b8"/>
<circle cx="662.8" cy="136.5" r="2.35" fill="#3b63b8"/>
<circle cx="684" cy="139.6" r="2.35" fill="#3b63b8"/>
<circle cx="521" cy="106.5" r="2.35" fill="#3b63b8"/>
<circle cx="528.6" cy="104.4" r="2.35" fill="#3b63b8"/>
<circle cx="534.6" cy="103.4" r="2.35" fill="#3b63b8"/>
<circle cx="542.7" cy="101.4" r="2.35" fill="#3b63b8"/>
<circle cx="550.8" cy="99.4" r="2.35" fill="#3b63b8"/>
<circle cx="558.9" cy="97.4" r="2.35" fill="#3b63b8"/>
<circle cx="567" cy="94.3" r="2.35" fill="#3b63b8"/>
<circle cx="573" cy="93.3" r="2.35" fill="#3b63b8"/>
<circle cx="580.1" cy="93.3" r="2.35" fill="#3b63b8"/>
<circle cx="567" cy="99.4" r="2.35" fill="#3b63b8"/>
<circle cx="575.1" cy="99.4" r="2.35" fill="#3b63b8"/>
<circle cx="583.1" cy="99.4" r="2.35" fill="#3b63b8"/>
<circle cx="587.4" cy="100" r="2.35" fill="#3b63b8"/>
<circle cx="595.1" cy="100.4" r="2.35" fill="#3b63b8"/>
<circle cx="603.8" cy="100.8" r="2.35" fill="#3b63b8"/>
<circle cx="613.3" cy="101.4" r="2.35" fill="#3b63b8"/>
<circle cx="623" cy="101.8" r="2.35" fill="#3b63b8"/>
<circle cx="630.9" cy="102.4" r="2.35" fill="#3b63b8"/>
<circle cx="641.6" cy="103" r="2.35" fill="#3b63b8"/>
<circle cx="653.3" cy="103.9" r="2.35" fill="#3b63b8"/>
<circle cx="661.8" cy="104.5" r="2.35" fill="#3b63b8"/>
<circle cx="670.3" cy="105.1" r="2.35" fill="#3b63b8"/>
<circle cx="681.4" cy="106.1" r="2.35" fill="#3b63b8"/>
<circle cx="692.1" cy="102" r="2.35" fill="#3b63b8"/>
<circle cx="692.1" cy="107.5" r="2.35" fill="#3b63b8"/>
<polyline points="418.5,319.6 423.9,285 426.6,270.7 428.7,262.6 431.4,252.7" fill="none" stroke="#178639" stroke-width="5.2" stroke-linecap="round" stroke-linejoin="round"/>
<circle cx="433.3" cy="249" r="2.5" fill="#178639"/>
<circle cx="435.2" cy="243.3" r="2.5" fill="#178639"/>
<circle cx="437.1" cy="234.8" r="2.5" fill="#178639"/>
<circle cx="429" cy="228.5" r="2.6" fill="#178639"/>
<circle cx="433" cy="230" r="2.6" fill="#178639"/>
<circle cx="437" cy="229" r="2.6" fill="#178639"/>
<circle cx="440.5" cy="226" r="2.6" fill="#178639"/>
<circle cx="442.7" cy="222" r="2.6" fill="#178639"/>
<circle cx="442" cy="220" r="2.5" fill="#178639"/>
<circle cx="442.9" cy="217.45" r="2.5" fill="#178639"/>
<circle cx="443.79" cy="214.91" r="2.5" fill="#178639"/>
<circle cx="444.69" cy="212.36" r="2.5" fill="#178639"/>
<circle cx="445.59" cy="209.81" r="2.5" fill="#178639"/>
<circle cx="446.48" cy="207.27" r="2.5" fill="#178639"/>
<circle cx="447.52" cy="204.78" r="2.5" fill="#178639"/>
<circle cx="448.73" cy="202.37" r="2.5" fill="#178639"/>
<circle cx="449.95" cy="199.95" r="2.5" fill="#178639"/>
<circle cx="451.16" cy="197.54" r="2.5" fill="#178639"/>
<circle cx="452.38" cy="195.13" r="2.5" fill="#178639"/>
<circle cx="453.59" cy="192.72" r="2.5" fill="#178639"/>
<circle cx="454.79" cy="190.3" r="2.5" fill="#178639"/>
<circle cx="455.99" cy="187.88" r="2.5" fill="#178639"/>
<circle cx="457.19" cy="185.46" r="2.5" fill="#178639"/>
<circle cx="458.39" cy="183.05" r="2.5" fill="#178639"/>
<circle cx="459.59" cy="180.63" r="2.5" fill="#178639"/>
<circle cx="460.99" cy="178.32" r="2.5" fill="#178639"/>
<circle cx="462.45" cy="176.05" r="2.5" fill="#178639"/>
<circle cx="463.92" cy="173.79" r="2.5" fill="#178639"/>
<circle cx="465.39" cy="171.52" r="2.5" fill="#178639"/>
<circle cx="466.86" cy="169.26" r="2.5" fill="#178639"/>
<circle cx="468.32" cy="166.99" r="2.5" fill="#178639"/>
<circle cx="469.79" cy="164.72" r="2.5" fill="#178639"/>
<circle cx="471.21" cy="162.42" r="2.5" fill="#178639"/>
<circle cx="472.62" cy="160.12" r="2.5" fill="#178639"/>
<circle cx="474.02" cy="157.82" r="2.5" fill="#178639"/>
<circle cx="475.43" cy="155.51" r="2.5" fill="#178639"/>
<circle cx="476.84" cy="153.21" r="2.5" fill="#178639"/>
<circle cx="478.25" cy="150.9" r="2.5" fill="#178639"/>
<circle cx="479.74" cy="148.65" r="2.5" fill="#178639"/>
<circle cx="481.28" cy="146.44" r="2.5" fill="#178639"/>
<circle cx="482.82" cy="144.22" r="2.5" fill="#178639"/>
<circle cx="484.36" cy="142" r="2.5" fill="#178639"/>
<circle cx="485.9" cy="139.79" r="2.5" fill="#178639"/>
<circle cx="487.54" cy="137.64" r="2.5" fill="#178639"/>
<circle cx="489.3" cy="135.59" r="2.5" fill="#178639"/>
<circle cx="491.05" cy="133.54" r="2.5" fill="#178639"/>
<circle cx="492.81" cy="131.5" r="2.5" fill="#178639"/>
<circle cx="494.57" cy="129.45" r="2.5" fill="#178639"/>
<circle cx="496.33" cy="127.4" r="2.5" fill="#178639"/>
<circle cx="498.56" cy="125.9" r="2.5" fill="#178639"/>
<circle cx="500" cy="125" r="2.4" fill="#178639"/>
<circle cx="503.37" cy="122.02" r="2.4" fill="#178639"/>
<circle cx="507" cy="119.37" r="2.4" fill="#178639"/>
<circle cx="510.75" cy="116.88" r="2.4" fill="#178639"/>
<circle cx="514.5" cy="114.4" r="2.4" fill="#178639"/>
<circle cx="518.28" cy="111.97" r="2.4" fill="#178639"/>
<circle cx="522.34" cy="110.03" r="2.4" fill="#178639"/>
<circle cx="526.35" cy="107.98" r="2.4" fill="#178639"/>
<circle cx="530.36" cy="105.94" r="2.4" fill="#178639"/>
<circle cx="534.55" cy="104.41" r="2.4" fill="#178639"/>
<circle cx="538.96" cy="103.51" r="2.4" fill="#178639"/>
<circle cx="550.8" cy="101.4" r="2.35" fill="#178639"/>
<circle cx="561.9" cy="100.4" r="2.35" fill="#178639"/>
<circle cx="580.1" cy="101.4" r="2.35" fill="#178639"/>
<circle cx="600.2" cy="103" r="2.35" fill="#178639"/>
<circle cx="624.4" cy="104.9" r="2.35" fill="#178639"/>
<circle cx="654.3" cy="107.9" r="2.35" fill="#178639"/>
<circle cx="670.3" cy="109.5" r="2.35" fill="#178639"/>
<circle cx="687.1" cy="111.9" r="2.35" fill="#178639"/>
<circle cx="513" cy="86" r="2.4" fill="#178639"/>
<circle cx="516.73" cy="83.87" r="2.4" fill="#178639"/>
<circle cx="520.5" cy="81.79" r="2.4" fill="#178639"/>
<circle cx="524.47" cy="80.14" r="2.4" fill="#178639"/>
<circle cx="528.35" cy="78.32" r="2.4" fill="#178639"/>
<circle cx="532.07" cy="76.15" r="2.4" fill="#178639"/>
<circle cx="535.78" cy="73.98" r="2.4" fill="#178639"/>
<circle cx="539.68" cy="72.19" r="2.4" fill="#178639"/>
<circle cx="543.64" cy="70.51" r="2.4" fill="#178639"/>
<circle cx="547.66" cy="68.99" r="2.4" fill="#178639"/>
<circle cx="551.77" cy="67.74" r="2.4" fill="#178639"/>
<circle cx="568.6" cy="65.7" r="2.35" fill="#178639"/>
<circle cx="585.6" cy="64.6" r="2.35" fill="#178639"/>
<circle cx="598.1" cy="65.1" r="2.35" fill="#178639"/>
<circle cx="613.9" cy="65.7" r="2.35" fill="#178639"/>
<circle cx="632.1" cy="66.3" r="2.35" fill="#178639"/>
<circle cx="656.1" cy="67.7" r="2.35" fill="#178639"/>
<circle cx="538.7" cy="72.7" r="2.35" fill="#178639"/>
<circle cx="550.8" cy="72.7" r="2.35" fill="#178639"/>
<circle cx="558.9" cy="71.7" r="2.35" fill="#178639"/>
<circle cx="565" cy="72.3" r="2.35" fill="#178639"/>
<circle cx="573" cy="71.7" r="2.35" fill="#178639"/>
<circle cx="581.1" cy="71.1" r="2.35" fill="#178639"/>
<circle cx="587.2" cy="71.7" r="2.35" fill="#178639"/>
<circle cx="596.1" cy="71.7" r="2.35" fill="#178639"/>
<circle cx="607.6" cy="71.7" r="2.35" fill="#178639"/>
<circle cx="615.7" cy="71.7" r="2.35" fill="#178639"/>
<circle cx="624.4" cy="71.7" r="2.35" fill="#178639"/>
<circle cx="635.9" cy="72.4" r="2.35" fill="#178639"/>
<circle cx="648.7" cy="73.2" r="2.35" fill="#178639"/>
<circle cx="657.2" cy="73.8" r="2.35" fill="#178639"/>
<circle cx="665.8" cy="74.2" r="2.35" fill="#178639"/>
<circle cx="676" cy="74.8" r="2.35" fill="#178639"/>
<circle cx="687.1" cy="75.2" r="2.35" fill="#178639"/>
<circle cx="698.2" cy="77.2" r="2.35" fill="#178639"/>
<polyline points="414.5,296.3 415.4,285 419.6,265 422.6,250.4 424.8,235.8" fill="none" stroke="#f4861f" stroke-width="5.2" stroke-linecap="round" stroke-linejoin="round"/>
<circle cx="426.7" cy="230.1" r="2.5" fill="#f4861f"/>
<circle cx="428.6" cy="224.4" r="2.5" fill="#f4861f"/>
<circle cx="431" cy="218" r="2.5" fill="#f4861f"/>
<circle cx="423.5" cy="211" r="2.6" fill="#f4861f"/>
<circle cx="427" cy="212.5" r="2.6" fill="#f4861f"/>
<circle cx="431" cy="212" r="2.6" fill="#f4861f"/>
<circle cx="434.5" cy="210" r="2.6" fill="#f4861f"/>
<circle cx="432.2" cy="207.2" r="2.6" fill="#f4861f"/>
<circle cx="432.2" cy="207.2" r="2.5" fill="#f4861f"/>
<circle cx="433.5" cy="204.84" r="2.5" fill="#f4861f"/>
<circle cx="434.81" cy="202.47" r="2.5" fill="#f4861f"/>
<circle cx="436.11" cy="200.11" r="2.5" fill="#f4861f"/>
<circle cx="437.22" cy="197.65" r="2.5" fill="#f4861f"/>
<circle cx="438.25" cy="195.15" r="2.5" fill="#f4861f"/>
<circle cx="439.28" cy="192.66" r="2.5" fill="#f4861f"/>
<circle cx="440.31" cy="190.16" r="2.5" fill="#f4861f"/>
<circle cx="441.29" cy="187.64" r="2.5" fill="#f4861f"/>
<circle cx="442.25" cy="185.12" r="2.5" fill="#f4861f"/>
<circle cx="443.65" cy="182.82" r="2.5" fill="#f4861f"/>
<circle cx="445.08" cy="180.52" r="2.5" fill="#f4861f"/>
<circle cx="446.34" cy="178.14" r="2.5" fill="#f4861f"/>
<circle cx="447.57" cy="175.73" r="2.5" fill="#f4861f"/>
<circle cx="448.79" cy="173.33" r="2.5" fill="#f4861f"/>
<circle cx="450.01" cy="170.92" r="2.5" fill="#f4861f"/>
<circle cx="451.23" cy="168.51" r="2.5" fill="#f4861f"/>
<circle cx="452.43" cy="166.09" r="2.5" fill="#f4861f"/>
<circle cx="453.6" cy="163.66" r="2.5" fill="#f4861f"/>
<circle cx="454.77" cy="161.22" r="2.5" fill="#f4861f"/>
<circle cx="455.93" cy="158.79" r="2.5" fill="#f4861f"/>
<circle cx="457.1" cy="156.35" r="2.5" fill="#f4861f"/>
<circle cx="458.26" cy="153.92" r="2.5" fill="#f4861f"/>
<circle cx="459.43" cy="151.48" r="2.5" fill="#f4861f"/>
<circle cx="460.6" cy="149.05" r="2.5" fill="#f4861f"/>
<circle cx="461.98" cy="146.74" r="2.5" fill="#f4861f"/>
<circle cx="463.48" cy="144.49" r="2.5" fill="#f4861f"/>
<circle cx="464.99" cy="142.25" r="2.5" fill="#f4861f"/>
<circle cx="466.49" cy="140.01" r="2.5" fill="#f4861f"/>
<circle cx="467.99" cy="137.76" r="2.5" fill="#f4861f"/>
<circle cx="469.47" cy="135.51" r="2.5" fill="#f4861f"/>
<circle cx="470.96" cy="133.25" r="2.5" fill="#f4861f"/>
<circle cx="472.45" cy="131" r="2.5" fill="#f4861f"/>
<circle cx="473.94" cy="128.75" r="2.5" fill="#f4861f"/>
<circle cx="475.63" cy="126.64" r="2.5" fill="#f4861f"/>
<circle cx="477.32" cy="124.54" r="2.5" fill="#f4861f"/>
<circle cx="479.01" cy="122.43" r="2.5" fill="#f4861f"/>
<circle cx="480.71" cy="120.33" r="2.5" fill="#f4861f"/>
<circle cx="482.44" cy="118.26" r="2.5" fill="#f4861f"/>
<circle cx="484.17" cy="116.19" r="2.5" fill="#f4861f"/>
<circle cx="485.9" cy="114.11" r="2.5" fill="#f4861f"/>
<circle cx="487.63" cy="112.04" r="2.5" fill="#f4861f"/>
<circle cx="488.5" cy="111" r="2.4" fill="#f4861f"/>
<circle cx="491.56" cy="107.56" r="2.4" fill="#f4861f"/>
<circle cx="494.61" cy="104.12" r="2.4" fill="#f4861f"/>
<circle cx="497.7" cy="100.71" r="2.4" fill="#f4861f"/>
<circle cx="500.83" cy="97.34" r="2.4" fill="#f4861f"/>
<circle cx="504.12" cy="94.15" r="2.4" fill="#f4861f"/>
<circle cx="507.79" cy="91.38" r="2.4" fill="#f4861f"/>
<circle cx="511.53" cy="88.7" r="2.4" fill="#f4861f"/>
<circle cx="515.28" cy="86.03" r="2.4" fill="#f4861f"/>
<circle cx="519.19" cy="83.67" r="2.4" fill="#f4861f"/>
<circle cx="523.43" cy="81.87" r="2.4" fill="#f4861f"/>
<circle cx="527.66" cy="80.07" r="2.4" fill="#f4861f"/>
<circle cx="531.91" cy="78.3" r="2.4" fill="#f4861f"/>
<circle cx="536.18" cy="76.59" r="2.4" fill="#f4861f"/>
<circle cx="556.9" cy="74.1" r="2.35" fill="#f4861f"/>
<circle cx="566" cy="74.5" r="2.35" fill="#f4861f"/>
<circle cx="578" cy="74.5" r="2.35" fill="#f4861f"/>
<circle cx="590.7" cy="74.6" r="2.35" fill="#f4861f"/>
<circle cx="607.2" cy="76.2" r="2.35" fill="#f4861f"/>
<circle cx="625" cy="77.6" r="2.35" fill="#f4861f"/>
<circle cx="645" cy="79.6" r="2.35" fill="#f4861f"/>
<circle cx="667.3" cy="81.8" r="2.35" fill="#f4861f"/>
<circle cx="691.5" cy="85.3" r="2.35" fill="#f4861f"/>
<polyline points="506.4,68.7 515,61 525.6,53.5" fill="none" stroke="#f4861f" stroke-width="4.4" stroke-linecap="round" stroke-linejoin="round"/>
<circle cx="532.2" cy="47.5" r="2.35" fill="#f4861f"/>
<circle cx="536.3" cy="44.8" r="2.35" fill="#f4861f"/>
<circle cx="540.7" cy="42.4" r="2.35" fill="#f4861f"/>
<circle cx="547.8" cy="40.8" r="2.35" fill="#f4861f"/>
<circle cx="557.3" cy="38.4" r="2.35" fill="#f4861f"/>
<circle cx="573" cy="37.4" r="2.35" fill="#f4861f"/>
<circle cx="595.7" cy="37.4" r="2.35" fill="#f4861f"/>
<circle cx="611.9" cy="37.8" r="2.35" fill="#f4861f"/>
<circle cx="631.9" cy="38.4" r="2.35" fill="#f4861f"/>
<circle cx="651.3" cy="39.8" r="2.35" fill="#f4861f"/>
<circle cx="672.3" cy="41.4" r="2.35" fill="#f4861f"/>
<circle cx="698.2" cy="43.5" r="2.35" fill="#f4861f"/>
<polyline points="411.6,276.3 413.5,265 417.1,240 418.8,233.5" fill="none" stroke="#ec1c24" stroke-width="5.2" stroke-linecap="round" stroke-linejoin="round"/>
<circle cx="420.1" cy="228.1" r="2.4" fill="#ec1c24"/>
<circle cx="421.5" cy="222.7" r="2.4" fill="#ec1c24"/>
<circle cx="422.8" cy="218" r="2.4" fill="#ec1c24"/>
<circle cx="423.5" cy="212.6" r="2.4" fill="#ec1c24"/>
<circle cx="425.5" cy="206.6" r="2.4" fill="#ec1c24"/>
<circle cx="427.5" cy="200.5" r="2.4" fill="#ec1c24"/>
<circle cx="420.5" cy="193" r="2.6" fill="#ec1c24"/>
<circle cx="424" cy="191.5" r="2.6" fill="#ec1c24"/>
<circle cx="428" cy="193" r="2.6" fill="#ec1c24"/>
<circle cx="431" cy="190.5" r="2.6" fill="#ec1c24"/>
<circle cx="423" cy="195.5" r="2.6" fill="#ec1c24"/>
<circle cx="431.6" cy="185" r="2.3" fill="#ec1c24"/>
<circle cx="432.85" cy="180.57" r="2.3" fill="#ec1c24"/>
<circle cx="434.29" cy="176.22" r="2.3" fill="#ec1c24"/>
<circle cx="436.32" cy="172.09" r="2.3" fill="#ec1c24"/>
<circle cx="438.36" cy="167.97" r="2.3" fill="#ec1c24"/>
<circle cx="440.4" cy="163.84" r="2.3" fill="#ec1c24"/>
<circle cx="442.44" cy="159.73" r="2.3" fill="#ec1c24"/>
<circle cx="444.52" cy="155.62" r="2.3" fill="#ec1c24"/>
<circle cx="446.65" cy="151.55" r="2.3" fill="#ec1c24"/>
<circle cx="448.89" cy="147.52" r="2.3" fill="#ec1c24"/>
<circle cx="451.37" cy="143.66" r="2.3" fill="#ec1c24"/>
<circle cx="454.04" cy="139.92" r="2.3" fill="#ec1c24"/>
<polyline points="456.2,136 459.4,131.2 464.2,123.9 469.1,115.8 475.5,107 482,99.7 488.5,92.4" fill="none" stroke="#ec1c24" stroke-width="4.6" stroke-linecap="round" stroke-linejoin="round"/>
<circle cx="488.5" cy="92.4" r="2.3" fill="#ec1c24"/>
<circle cx="491.3" cy="88.75" r="2.3" fill="#ec1c24"/>
<circle cx="494.11" cy="85.11" r="2.3" fill="#ec1c24"/>
<circle cx="497.14" cy="81.66" r="2.3" fill="#ec1c24"/>
<circle cx="500.39" cy="78.41" r="2.3" fill="#ec1c24"/>
<circle cx="503.65" cy="75.16" r="2.3" fill="#ec1c24"/>
<circle cx="506.96" cy="71.96" r="2.3" fill="#ec1c24"/>
<circle cx="510.56" cy="69.16" r="2.3" fill="#ec1c24"/>
<circle cx="514.61" cy="66.98" r="2.3" fill="#ec1c24"/>
<circle cx="518.41" cy="64.41" r="2.3" fill="#ec1c24"/>
<circle cx="522.19" cy="61.78" r="2.3" fill="#ec1c24"/>
<circle cx="526.05" cy="59.3" r="2.3" fill="#ec1c24"/>
<circle cx="538.3" cy="54.1" r="2.35" fill="#ec1c24"/>
<circle cx="549.8" cy="52.5" r="2.35" fill="#ec1c24"/>
<circle cx="564.5" cy="51.5" r="2.35" fill="#ec1c24"/>
<circle cx="586.2" cy="51.5" r="2.35" fill="#ec1c24"/>
<circle cx="600.2" cy="53" r="2.35" fill="#ec1c24"/>
<circle cx="615.7" cy="54" r="2.35" fill="#ec1c24"/>
<circle cx="632.9" cy="55.2" r="2.35" fill="#ec1c24"/>
<circle cx="651.7" cy="57.2" r="2.35" fill="#ec1c24"/>
<circle cx="672.3" cy="59.2" r="2.35" fill="#ec1c24"/>
<circle cx="694.1" cy="62.2" r="2.35" fill="#ec1c24"/>
<polyline points="495.3,60.2 505,50 515,40 527.6,28.3" fill="none" stroke="#ec1c24" stroke-width="4.6" stroke-linecap="round" stroke-linejoin="round"/>
<circle cx="534.6" cy="24.6" r="2.35" fill="#ec1c24"/>
<circle cx="539.1" cy="22.6" r="2.35" fill="#ec1c24"/>
<circle cx="543.7" cy="19.8" r="2.35" fill="#ec1c24"/>
<circle cx="551.8" cy="18.2" r="2.35" fill="#ec1c24"/>
<circle cx="579.1" cy="15.2" r="2.35" fill="#ec1c24"/>
<circle cx="591.1" cy="15.2" r="2.35" fill="#ec1c24"/>
<circle cx="605.6" cy="15.6" r="2.35" fill="#ec1c24"/>
<circle cx="623.8" cy="16.2" r="2.35" fill="#ec1c24"/>
<circle cx="647.7" cy="17.8" r="2.35" fill="#ec1c24"/>
<circle cx="676" cy="19.8" r="2.35" fill="#ec1c24"/>
<circle cx="693.1" cy="21.2" r="2.35" fill="#ec1c24"/>
<circle cx="372.7" cy="77.6" r="4.9" fill="#6a51a8"/>
<circle cx="389.8" cy="65.2" r="4.9" fill="#6a51a8"/>
<circle cx="410.4" cy="52.3" r="4.9" fill="#6a51a8"/>
<circle cx="435.5" cy="39.6" r="4.9" fill="#6a51a8"/>
<circle cx="467.8" cy="28.5" r="4.9" fill="#6a51a8"/>
<circle cx="508" cy="19.2" r="4.9" fill="#6a51a8"/>
<circle cx="561.9" cy="14.5" r="4.9" fill="#6a51a8"/>
<circle cx="635.5" cy="18.6" r="4.9" fill="#6a51a8"/>
</g>
<rect x="432" y="93" width="121.8" height="5" fill="#1a1a1a"/>
<rect x="490.3" y="87.6" width="5.2" height="14.9" fill="#1e1e1e"/>
<text x="51.7" y="90.2" font-size="10.8" fill="#1e1e1e" text-anchor="start" >SN 2012Z - S1</text>
<text x="530.2" y="90.7" font-size="10.8" fill="#1e1e1e" text-anchor="start" >SN 2012Z - S1</text>
<text x="200" y="159.4" font-size="10.6" fill="#a45a1c" text-anchor="start" >V445 Pup</text>
<text x="225.7" y="245.4" font-size="10.8" fill="#26999c" text-anchor="start" >WR</text>
<text x="377.7" y="214.1" font-size="10.8" fill="#26999c" text-anchor="start" >WR</text>
<text x="48.6" y="20.7" font-size="13" fill="#111" text-anchor="start" font-weight="bold" stroke="#111" stroke-width="0.45">a</text>
<text x="380.2" y="20.7" font-size="13" fill="#111" text-anchor="start" font-weight="bold" stroke="#111" stroke-width="0.45">b</text>
<text x="0" y="0" font-size="11.2" fill="#6a51a8" text-anchor="middle" dominant-baseline="central" transform="translate(57.2,159.2) rotate(-50)" letter-spacing="-0.4">SSS</text>
<text x="0" y="0" font-size="11.2" fill="#6a51a8" text-anchor="middle" dominant-baseline="central" transform="translate(394.8,49.5) rotate(-40)" letter-spacing="-0.4">SSS</text>
<text x="0" y="0" font-size="10.6" fill="#ffffff" text-anchor="middle" dominant-baseline="central" transform="translate(63.5,210.1) rotate(-54.5)" >Helium star</text>
<text x="0" y="0" font-size="10.8" fill="#ffffff" text-anchor="middle" dominant-baseline="central" transform="translate(397.3,107.9) rotate(-40.3)" >Helium star</text>
<line x1="257.1" y1="277.1" x2="326.62" y2="308.95" stroke="#8c1b1f" stroke-width="2.4"/>
<polygon points="334.8,312.7 322.8,312.48 327.3,309.26 326.8,303.75" fill="#8c1b1f"/>
<line x1="574.2" y1="277" x2="647.95" y2="309.2" stroke="#8c1b1f" stroke-width="2.4"/>
<polygon points="656.2,312.8 644.2,312.8 648.64,309.5 648.04,304" fill="#8c1b1f"/>
<text x="0" y="0" font-size="10.6" fill="#8c1b1f" text-anchor="middle" dominant-baseline="central" transform="translate(288.1,301.7) rotate(24.6)"><tspan font-style="italic">A</tspan><tspan font-size="7.5" dy="3">V</tspan><tspan dy="-3"> = 0.5 mag</tspan></text>
<text x="0" y="0" font-size="10.6" fill="#8c1b1f" text-anchor="middle" dominant-baseline="central" transform="translate(607.1,301.7) rotate(23.6)"><tspan font-style="italic">A</tspan><tspan font-size="7.5" dy="3">V</tspan><tspan dy="-3"> = 0.5 mag</tspan></text>
<text x="58.3" y="285.5" font-size="10.4" fill="#ec1c24" text-anchor="end">11</text>
<text x="61.3" y="285.5" font-size="10.4" fill="#ec1c24" font-style="italic" transform="translate(61.3,0) scale(1.09,1) translate(-61.3,0)">M</text>
<circle cx="73.8" cy="286.5" r="2.8" fill="none" stroke="#ec1c24" stroke-width="1.15"/>
<circle cx="73.8" cy="286.5" r="0.8" fill="#ec1c24"/>
<text x="58.3" y="300.6" font-size="10.4" fill="#f4861f" text-anchor="end">10</text>
<text x="61.3" y="300.6" font-size="10.4" fill="#f4861f" font-style="italic" transform="translate(61.3,0) scale(1.09,1) translate(-61.3,0)">M</text>
<circle cx="73.8" cy="301.6" r="2.8" fill="none" stroke="#f4861f" stroke-width="1.15"/>
<circle cx="73.8" cy="301.6" r="0.8" fill="#f4861f"/>
<text x="58.3" y="316.2" font-size="10.4" fill="#178639" text-anchor="end">9</text>
<text x="61.3" y="316.2" font-size="10.4" fill="#178639" font-style="italic" transform="translate(61.3,0) scale(1.09,1) translate(-61.3,0)">M</text>
<circle cx="73.8" cy="317.2" r="2.8" fill="none" stroke="#178639" stroke-width="1.15"/>
<circle cx="73.8" cy="317.2" r="0.8" fill="#178639"/>
<text x="58.3" y="330.8" font-size="10.4" fill="#3b63b8" text-anchor="end">8</text>
<text x="61.3" y="330.8" font-size="10.4" fill="#3b63b8" font-style="italic" transform="translate(61.3,0) scale(1.09,1) translate(-61.3,0)">M</text>
<circle cx="73.8" cy="331.8" r="2.8" fill="none" stroke="#3b63b8" stroke-width="1.15"/>
<circle cx="73.8" cy="331.8" r="0.8" fill="#3b63b8"/>
<text x="126.8" y="323.8" font-size="10.4" fill="#cf479f" text-anchor="end">7</text>
<text x="130" y="323.8" font-size="10.4" fill="#cf479f" font-style="italic" transform="translate(130,0) scale(1.09,1) translate(-130,0)">M</text>
<circle cx="142.5" cy="324.8" r="2.8" fill="none" stroke="#cf479f" stroke-width="1.15"/>
<circle cx="142.5" cy="324.8" r="0.8" fill="#cf479f"/>
<text x="386.3" y="285.2" font-size="10.4" fill="#ec1c24" text-anchor="end">11</text>
<text x="389.3" y="285.2" font-size="10.4" fill="#ec1c24" font-style="italic" transform="translate(389.3,0) scale(1.09,1) translate(-389.3,0)">M</text>
<circle cx="401.8" cy="286.2" r="2.8" fill="none" stroke="#ec1c24" stroke-width="1.15"/>
<circle cx="401.8" cy="286.2" r="0.8" fill="#ec1c24"/>
<text x="386.3" y="301.4" font-size="10.4" fill="#f4861f" text-anchor="end">10</text>
<text x="389.3" y="301.4" font-size="10.4" fill="#f4861f" font-style="italic" transform="translate(389.3,0) scale(1.09,1) translate(-389.3,0)">M</text>
<circle cx="401.8" cy="302.4" r="2.8" fill="none" stroke="#f4861f" stroke-width="1.15"/>
<circle cx="401.8" cy="302.4" r="0.8" fill="#f4861f"/>
<text x="386.3" y="316.6" font-size="10.4" fill="#178639" text-anchor="end">9</text>
<text x="389.3" y="316.6" font-size="10.4" fill="#178639" font-style="italic" transform="translate(389.3,0) scale(1.09,1) translate(-389.3,0)">M</text>
<circle cx="401.8" cy="317.6" r="2.8" fill="none" stroke="#178639" stroke-width="1.15"/>
<circle cx="401.8" cy="317.6" r="0.8" fill="#178639"/>
<text x="386.3" y="331.5" font-size="10.4" fill="#3b63b8" text-anchor="end">8</text>
<text x="389.3" y="331.5" font-size="10.4" fill="#3b63b8" font-style="italic" transform="translate(389.3,0) scale(1.09,1) translate(-389.3,0)">M</text>
<circle cx="401.8" cy="332.5" r="2.8" fill="none" stroke="#3b63b8" stroke-width="1.15"/>
<circle cx="401.8" cy="332.5" r="0.8" fill="#3b63b8"/>
<text x="452.3" y="324.6" font-size="10.4" fill="#cf479f" text-anchor="end">7</text>
<text x="455.5" y="324.6" font-size="10.4" fill="#cf479f" font-style="italic" transform="translate(455.5,0) scale(1.09,1) translate(-455.5,0)">M</text>
<circle cx="468" cy="325.6" r="2.8" fill="none" stroke="#cf479f" stroke-width="1.15"/>
<circle cx="468" cy="325.6" r="0.8" fill="#cf479f"/>
<line x1="37.5" y1="9.53" x2="40.7" y2="9.53" stroke="#262626" stroke-width="1.1"/>
<line x1="364.8" y1="9.53" x2="371.2" y2="9.53" stroke="#262626" stroke-width="1.1"/>
<line x1="694.8" y1="9.53" x2="698" y2="9.53" stroke="#262626" stroke-width="1.1"/>
<line x1="37.5" y1="16.66" x2="40.7" y2="16.66" stroke="#262626" stroke-width="1.1"/>
<line x1="364.8" y1="16.66" x2="371.2" y2="16.66" stroke="#262626" stroke-width="1.1"/>
<line x1="694.8" y1="16.66" x2="698" y2="16.66" stroke="#262626" stroke-width="1.1"/>
<line x1="37.5" y1="23.8" x2="40.7" y2="23.8" stroke="#262626" stroke-width="1.1"/>
<line x1="364.8" y1="23.8" x2="371.2" y2="23.8" stroke="#262626" stroke-width="1.1"/>
<line x1="694.8" y1="23.8" x2="698" y2="23.8" stroke="#262626" stroke-width="1.1"/>
<line x1="37.5" y1="30.93" x2="40.7" y2="30.93" stroke="#262626" stroke-width="1.1"/>
<line x1="364.8" y1="30.93" x2="371.2" y2="30.93" stroke="#262626" stroke-width="1.1"/>
<line x1="694.8" y1="30.93" x2="698" y2="30.93" stroke="#262626" stroke-width="1.1"/>
<line x1="37.5" y1="38.07" x2="40.7" y2="38.07" stroke="#262626" stroke-width="1.1"/>
<line x1="364.8" y1="38.07" x2="371.2" y2="38.07" stroke="#262626" stroke-width="1.1"/>
<line x1="694.8" y1="38.07" x2="698" y2="38.07" stroke="#262626" stroke-width="1.1"/>
<line x1="37.5" y1="45.2" x2="43.8" y2="45.2" stroke="#262626" stroke-width="1.1"/>
<line x1="361.7" y1="45.2" x2="374.3" y2="45.2" stroke="#262626" stroke-width="1.1"/>
<line x1="691.7" y1="45.2" x2="698" y2="45.2" stroke="#262626" stroke-width="1.1"/>
<line x1="37.5" y1="52.33" x2="40.7" y2="52.33" stroke="#262626" stroke-width="1.1"/>
<line x1="364.8" y1="52.33" x2="371.2" y2="52.33" stroke="#262626" stroke-width="1.1"/>
<line x1="694.8" y1="52.33" x2="698" y2="52.33" stroke="#262626" stroke-width="1.1"/>
<line x1="37.5" y1="59.47" x2="40.7" y2="59.47" stroke="#262626" stroke-width="1.1"/>
<line x1="364.8" y1="59.47" x2="371.2" y2="59.47" stroke="#262626" stroke-width="1.1"/>
<line x1="694.8" y1="59.47" x2="698" y2="59.47" stroke="#262626" stroke-width="1.1"/>
<line x1="37.5" y1="66.6" x2="40.7" y2="66.6" stroke="#262626" stroke-width="1.1"/>
<line x1="364.8" y1="66.6" x2="371.2" y2="66.6" stroke="#262626" stroke-width="1.1"/>
<line x1="694.8" y1="66.6" x2="698" y2="66.6" stroke="#262626" stroke-width="1.1"/>
<line x1="37.5" y1="73.74" x2="40.7" y2="73.74" stroke="#262626" stroke-width="1.1"/>
<line x1="364.8" y1="73.74" x2="371.2" y2="73.74" stroke="#262626" stroke-width="1.1"/>
<line x1="694.8" y1="73.74" x2="698" y2="73.74" stroke="#262626" stroke-width="1.1"/>
<line x1="37.5" y1="80.88" x2="40.7" y2="80.88" stroke="#262626" stroke-width="1.1"/>
<line x1="364.8" y1="80.88" x2="371.2" y2="80.88" stroke="#262626" stroke-width="1.1"/>
<line x1="694.8" y1="80.88" x2="698" y2="80.88" stroke="#262626" stroke-width="1.1"/>
<line x1="37.5" y1="88.01" x2="40.7" y2="88.01" stroke="#262626" stroke-width="1.1"/>
<line x1="364.8" y1="88.01" x2="371.2" y2="88.01" stroke="#262626" stroke-width="1.1"/>
<line x1="694.8" y1="88.01" x2="698" y2="88.01" stroke="#262626" stroke-width="1.1"/>
<line x1="37.5" y1="95.15" x2="40.7" y2="95.15" stroke="#262626" stroke-width="1.1"/>
<line x1="364.8" y1="95.15" x2="371.2" y2="95.15" stroke="#262626" stroke-width="1.1"/>
<line x1="694.8" y1="95.15" x2="698" y2="95.15" stroke="#262626" stroke-width="1.1"/>
<line x1="37.5" y1="102.28" x2="40.7" y2="102.28" stroke="#262626" stroke-width="1.1"/>
<line x1="364.8" y1="102.28" x2="371.2" y2="102.28" stroke="#262626" stroke-width="1.1"/>
<line x1="694.8" y1="102.28" x2="698" y2="102.28" stroke="#262626" stroke-width="1.1"/>
<line x1="37.5" y1="109.42" x2="40.7" y2="109.42" stroke="#262626" stroke-width="1.1"/>
<line x1="364.8" y1="109.42" x2="371.2" y2="109.42" stroke="#262626" stroke-width="1.1"/>
<line x1="694.8" y1="109.42" x2="698" y2="109.42" stroke="#262626" stroke-width="1.1"/>
<line x1="37.5" y1="116.55" x2="43.8" y2="116.55" stroke="#262626" stroke-width="1.1"/>
<line x1="361.7" y1="116.55" x2="374.3" y2="116.55" stroke="#262626" stroke-width="1.1"/>
<line x1="691.7" y1="116.55" x2="698" y2="116.55" stroke="#262626" stroke-width="1.1"/>
<line x1="37.5" y1="123.68" x2="40.7" y2="123.68" stroke="#262626" stroke-width="1.1"/>
<line x1="364.8" y1="123.68" x2="371.2" y2="123.68" stroke="#262626" stroke-width="1.1"/>
<line x1="694.8" y1="123.68" x2="698" y2="123.68" stroke="#262626" stroke-width="1.1"/>
<line x1="37.5" y1="130.82" x2="40.7" y2="130.82" stroke="#262626" stroke-width="1.1"/>
<line x1="364.8" y1="130.82" x2="371.2" y2="130.82" stroke="#262626" stroke-width="1.1"/>
<line x1="694.8" y1="130.82" x2="698" y2="130.82" stroke="#262626" stroke-width="1.1"/>
<line x1="37.5" y1="137.95" x2="40.7" y2="137.95" stroke="#262626" stroke-width="1.1"/>
<line x1="364.8" y1="137.95" x2="371.2" y2="137.95" stroke="#262626" stroke-width="1.1"/>
<line x1="694.8" y1="137.95" x2="698" y2="137.95" stroke="#262626" stroke-width="1.1"/>
<line x1="37.5" y1="145.09" x2="40.7" y2="145.09" stroke="#262626" stroke-width="1.1"/>
<line x1="364.8" y1="145.09" x2="371.2" y2="145.09" stroke="#262626" stroke-width="1.1"/>
<line x1="694.8" y1="145.09" x2="698" y2="145.09" stroke="#262626" stroke-width="1.1"/>
<line x1="37.5" y1="152.22" x2="40.7" y2="152.22" stroke="#262626" stroke-width="1.1"/>
<line x1="364.8" y1="152.22" x2="371.2" y2="152.22" stroke="#262626" stroke-width="1.1"/>
<line x1="694.8" y1="152.22" x2="698" y2="152.22" stroke="#262626" stroke-width="1.1"/>
<line x1="37.5" y1="159.36" x2="40.7" y2="159.36" stroke="#262626" stroke-width="1.1"/>
<line x1="364.8" y1="159.36" x2="371.2" y2="159.36" stroke="#262626" stroke-width="1.1"/>
<line x1="694.8" y1="159.36" x2="698" y2="159.36" stroke="#262626" stroke-width="1.1"/>
<line x1="37.5" y1="166.5" x2="40.7" y2="166.5" stroke="#262626" stroke-width="1.1"/>
<line x1="364.8" y1="166.5" x2="371.2" y2="166.5" stroke="#262626" stroke-width="1.1"/>
<line x1="694.8" y1="166.5" x2="698" y2="166.5" stroke="#262626" stroke-width="1.1"/>
<line x1="37.5" y1="173.63" x2="40.7" y2="173.63" stroke="#262626" stroke-width="1.1"/>
<line x1="364.8" y1="173.63" x2="371.2" y2="173.63" stroke="#262626" stroke-width="1.1"/>
<line x1="694.8" y1="173.63" x2="698" y2="173.63" stroke="#262626" stroke-width="1.1"/>
<line x1="37.5" y1="180.77" x2="40.7" y2="180.77" stroke="#262626" stroke-width="1.1"/>
<line x1="364.8" y1="180.77" x2="371.2" y2="180.77" stroke="#262626" stroke-width="1.1"/>
<line x1="694.8" y1="180.77" x2="698" y2="180.77" stroke="#262626" stroke-width="1.1"/>
<line x1="37.5" y1="187.9" x2="43.8" y2="187.9" stroke="#262626" stroke-width="1.1"/>
<line x1="361.7" y1="187.9" x2="374.3" y2="187.9" stroke="#262626" stroke-width="1.1"/>
<line x1="691.7" y1="187.9" x2="698" y2="187.9" stroke="#262626" stroke-width="1.1"/>
<line x1="37.5" y1="195.04" x2="40.7" y2="195.04" stroke="#262626" stroke-width="1.1"/>
<line x1="364.8" y1="195.04" x2="371.2" y2="195.04" stroke="#262626" stroke-width="1.1"/>
<line x1="694.8" y1="195.04" x2="698" y2="195.04" stroke="#262626" stroke-width="1.1"/>
<line x1="37.5" y1="202.17" x2="40.7" y2="202.17" stroke="#262626" stroke-width="1.1"/>
<line x1="364.8" y1="202.17" x2="371.2" y2="202.17" stroke="#262626" stroke-width="1.1"/>
<line x1="694.8" y1="202.17" x2="698" y2="202.17" stroke="#262626" stroke-width="1.1"/>
<line x1="37.5" y1="209.3" x2="40.7" y2="209.3" stroke="#262626" stroke-width="1.1"/>
<line x1="364.8" y1="209.3" x2="371.2" y2="209.3" stroke="#262626" stroke-width="1.1"/>
<line x1="694.8" y1="209.3" x2="698" y2="209.3" stroke="#262626" stroke-width="1.1"/>
<line x1="37.5" y1="216.44" x2="40.7" y2="216.44" stroke="#262626" stroke-width="1.1"/>
<line x1="364.8" y1="216.44" x2="371.2" y2="216.44" stroke="#262626" stroke-width="1.1"/>
<line x1="694.8" y1="216.44" x2="698" y2="216.44" stroke="#262626" stroke-width="1.1"/>
<line x1="37.5" y1="223.57" x2="40.7" y2="223.57" stroke="#262626" stroke-width="1.1"/>
<line x1="364.8" y1="223.57" x2="371.2" y2="223.57" stroke="#262626" stroke-width="1.1"/>
<line x1="694.8" y1="223.57" x2="698" y2="223.57" stroke="#262626" stroke-width="1.1"/>
<line x1="37.5" y1="230.71" x2="40.7" y2="230.71" stroke="#262626" stroke-width="1.1"/>
<line x1="364.8" y1="230.71" x2="371.2" y2="230.71" stroke="#262626" stroke-width="1.1"/>
<line x1="694.8" y1="230.71" x2="698" y2="230.71" stroke="#262626" stroke-width="1.1"/>
<line x1="37.5" y1="237.85" x2="40.7" y2="237.85" stroke="#262626" stroke-width="1.1"/>
<line x1="364.8" y1="237.85" x2="371.2" y2="237.85" stroke="#262626" stroke-width="1.1"/>
<line x1="694.8" y1="237.85" x2="698" y2="237.85" stroke="#262626" stroke-width="1.1"/>
<line x1="37.5" y1="244.98" x2="40.7" y2="244.98" stroke="#262626" stroke-width="1.1"/>
<line x1="364.8" y1="244.98" x2="371.2" y2="244.98" stroke="#262626" stroke-width="1.1"/>
<line x1="694.8" y1="244.98" x2="698" y2="244.98" stroke="#262626" stroke-width="1.1"/>
<line x1="37.5" y1="252.11" x2="40.7" y2="252.11" stroke="#262626" stroke-width="1.1"/>
<line x1="364.8" y1="252.11" x2="371.2" y2="252.11" stroke="#262626" stroke-width="1.1"/>
<line x1="694.8" y1="252.11" x2="698" y2="252.11" stroke="#262626" stroke-width="1.1"/>
<line x1="37.5" y1="259.25" x2="43.8" y2="259.25" stroke="#262626" stroke-width="1.1"/>
<line x1="361.7" y1="259.25" x2="374.3" y2="259.25" stroke="#262626" stroke-width="1.1"/>
<line x1="691.7" y1="259.25" x2="698" y2="259.25" stroke="#262626" stroke-width="1.1"/>
<line x1="37.5" y1="266.38" x2="40.7" y2="266.38" stroke="#262626" stroke-width="1.1"/>
<line x1="364.8" y1="266.38" x2="371.2" y2="266.38" stroke="#262626" stroke-width="1.1"/>
<line x1="694.8" y1="266.38" x2="698" y2="266.38" stroke="#262626" stroke-width="1.1"/>
<line x1="37.5" y1="273.52" x2="40.7" y2="273.52" stroke="#262626" stroke-width="1.1"/>
<line x1="364.8" y1="273.52" x2="371.2" y2="273.52" stroke="#262626" stroke-width="1.1"/>
<line x1="694.8" y1="273.52" x2="698" y2="273.52" stroke="#262626" stroke-width="1.1"/>
<line x1="37.5" y1="280.65" x2="40.7" y2="280.65" stroke="#262626" stroke-width="1.1"/>
<line x1="364.8" y1="280.65" x2="371.2" y2="280.65" stroke="#262626" stroke-width="1.1"/>
<line x1="694.8" y1="280.65" x2="698" y2="280.65" stroke="#262626" stroke-width="1.1"/>
<line x1="37.5" y1="287.79" x2="40.7" y2="287.79" stroke="#262626" stroke-width="1.1"/>
<line x1="364.8" y1="287.79" x2="371.2" y2="287.79" stroke="#262626" stroke-width="1.1"/>
<line x1="694.8" y1="287.79" x2="698" y2="287.79" stroke="#262626" stroke-width="1.1"/>
<line x1="37.5" y1="294.92" x2="40.7" y2="294.92" stroke="#262626" stroke-width="1.1"/>
<line x1="364.8" y1="294.92" x2="371.2" y2="294.92" stroke="#262626" stroke-width="1.1"/>
<line x1="694.8" y1="294.92" x2="698" y2="294.92" stroke="#262626" stroke-width="1.1"/>
<line x1="37.5" y1="302.06" x2="40.7" y2="302.06" stroke="#262626" stroke-width="1.1"/>
<line x1="364.8" y1="302.06" x2="371.2" y2="302.06" stroke="#262626" stroke-width="1.1"/>
<line x1="694.8" y1="302.06" x2="698" y2="302.06" stroke="#262626" stroke-width="1.1"/>
<line x1="37.5" y1="309.19" x2="40.7" y2="309.19" stroke="#262626" stroke-width="1.1"/>
<line x1="364.8" y1="309.19" x2="371.2" y2="309.19" stroke="#262626" stroke-width="1.1"/>
<line x1="694.8" y1="309.19" x2="698" y2="309.19" stroke="#262626" stroke-width="1.1"/>
<line x1="37.5" y1="316.33" x2="40.7" y2="316.33" stroke="#262626" stroke-width="1.1"/>
<line x1="364.8" y1="316.33" x2="371.2" y2="316.33" stroke="#262626" stroke-width="1.1"/>
<line x1="694.8" y1="316.33" x2="698" y2="316.33" stroke="#262626" stroke-width="1.1"/>
<line x1="37.5" y1="323.46" x2="40.7" y2="323.46" stroke="#262626" stroke-width="1.1"/>
<line x1="364.8" y1="323.46" x2="371.2" y2="323.46" stroke="#262626" stroke-width="1.1"/>
<line x1="694.8" y1="323.46" x2="698" y2="323.46" stroke="#262626" stroke-width="1.1"/>
<line x1="37.5" y1="330.6" x2="43.8" y2="330.6" stroke="#262626" stroke-width="1.1"/>
<line x1="361.7" y1="330.6" x2="374.3" y2="330.6" stroke="#262626" stroke-width="1.1"/>
<line x1="691.7" y1="330.6" x2="698" y2="330.6" stroke="#262626" stroke-width="1.1"/>
<line x1="45.3" y1="338.3" x2="45.3" y2="332" stroke="#262626" stroke-width="1.1"/>
<line x1="45.3" y1="1.6" x2="45.3" y2="7.9" stroke="#262626" stroke-width="1.1"/>
<line x1="58.41" y1="338.3" x2="58.41" y2="335.1" stroke="#262626" stroke-width="1.1"/>
<line x1="58.41" y1="1.6" x2="58.41" y2="4.8" stroke="#262626" stroke-width="1.1"/>
<line x1="71.53" y1="338.3" x2="71.53" y2="335.1" stroke="#262626" stroke-width="1.1"/>
<line x1="71.53" y1="1.6" x2="71.53" y2="4.8" stroke="#262626" stroke-width="1.1"/>
<line x1="84.64" y1="338.3" x2="84.64" y2="335.1" stroke="#262626" stroke-width="1.1"/>
<line x1="84.64" y1="1.6" x2="84.64" y2="4.8" stroke="#262626" stroke-width="1.1"/>
<line x1="97.75" y1="338.3" x2="97.75" y2="332" stroke="#262626" stroke-width="1.1"/>
<line x1="97.75" y1="1.6" x2="97.75" y2="7.9" stroke="#262626" stroke-width="1.1"/>
<line x1="110.86" y1="338.3" x2="110.86" y2="335.1" stroke="#262626" stroke-width="1.1"/>
<line x1="110.86" y1="1.6" x2="110.86" y2="4.8" stroke="#262626" stroke-width="1.1"/>
<line x1="123.97" y1="338.3" x2="123.97" y2="335.1" stroke="#262626" stroke-width="1.1"/>
<line x1="123.97" y1="1.6" x2="123.97" y2="4.8" stroke="#262626" stroke-width="1.1"/>
<line x1="137.09" y1="338.3" x2="137.09" y2="335.1" stroke="#262626" stroke-width="1.1"/>
<line x1="137.09" y1="1.6" x2="137.09" y2="4.8" stroke="#262626" stroke-width="1.1"/>
<line x1="150.2" y1="338.3" x2="150.2" y2="332" stroke="#262626" stroke-width="1.1"/>
<line x1="150.2" y1="1.6" x2="150.2" y2="7.9" stroke="#262626" stroke-width="1.1"/>
<line x1="163.31" y1="338.3" x2="163.31" y2="335.1" stroke="#262626" stroke-width="1.1"/>
<line x1="163.31" y1="1.6" x2="163.31" y2="4.8" stroke="#262626" stroke-width="1.1"/>
<line x1="176.43" y1="338.3" x2="176.43" y2="335.1" stroke="#262626" stroke-width="1.1"/>
<line x1="176.43" y1="1.6" x2="176.43" y2="4.8" stroke="#262626" stroke-width="1.1"/>
<line x1="189.54" y1="338.3" x2="189.54" y2="335.1" stroke="#262626" stroke-width="1.1"/>
<line x1="189.54" y1="1.6" x2="189.54" y2="4.8" stroke="#262626" stroke-width="1.1"/>
<line x1="202.65" y1="338.3" x2="202.65" y2="332" stroke="#262626" stroke-width="1.1"/>
<line x1="202.65" y1="1.6" x2="202.65" y2="7.9" stroke="#262626" stroke-width="1.1"/>
<line x1="215.76" y1="338.3" x2="215.76" y2="335.1" stroke="#262626" stroke-width="1.1"/>
<line x1="215.76" y1="1.6" x2="215.76" y2="4.8" stroke="#262626" stroke-width="1.1"/>
<line x1="228.88" y1="338.3" x2="228.88" y2="335.1" stroke="#262626" stroke-width="1.1"/>
<line x1="228.88" y1="1.6" x2="228.88" y2="4.8" stroke="#262626" stroke-width="1.1"/>
<line x1="241.99" y1="338.3" x2="241.99" y2="335.1" stroke="#262626" stroke-width="1.1"/>
<line x1="241.99" y1="1.6" x2="241.99" y2="4.8" stroke="#262626" stroke-width="1.1"/>
<line x1="255.1" y1="338.3" x2="255.1" y2="332" stroke="#262626" stroke-width="1.1"/>
<line x1="255.1" y1="1.6" x2="255.1" y2="7.9" stroke="#262626" stroke-width="1.1"/>
<line x1="268.21" y1="338.3" x2="268.21" y2="335.1" stroke="#262626" stroke-width="1.1"/>
<line x1="268.21" y1="1.6" x2="268.21" y2="4.8" stroke="#262626" stroke-width="1.1"/>
<line x1="281.33" y1="338.3" x2="281.33" y2="335.1" stroke="#262626" stroke-width="1.1"/>
<line x1="281.33" y1="1.6" x2="281.33" y2="4.8" stroke="#262626" stroke-width="1.1"/>
<line x1="294.44" y1="338.3" x2="294.44" y2="335.1" stroke="#262626" stroke-width="1.1"/>
<line x1="294.44" y1="1.6" x2="294.44" y2="4.8" stroke="#262626" stroke-width="1.1"/>
<line x1="307.55" y1="338.3" x2="307.55" y2="332" stroke="#262626" stroke-width="1.1"/>
<line x1="307.55" y1="1.6" x2="307.55" y2="7.9" stroke="#262626" stroke-width="1.1"/>
<line x1="320.66" y1="338.3" x2="320.66" y2="335.1" stroke="#262626" stroke-width="1.1"/>
<line x1="320.66" y1="1.6" x2="320.66" y2="4.8" stroke="#262626" stroke-width="1.1"/>
<line x1="333.77" y1="338.3" x2="333.77" y2="335.1" stroke="#262626" stroke-width="1.1"/>
<line x1="333.77" y1="1.6" x2="333.77" y2="4.8" stroke="#262626" stroke-width="1.1"/>
<line x1="346.89" y1="338.3" x2="346.89" y2="335.1" stroke="#262626" stroke-width="1.1"/>
<line x1="346.89" y1="1.6" x2="346.89" y2="4.8" stroke="#262626" stroke-width="1.1"/>
<line x1="360" y1="338.3" x2="360" y2="332" stroke="#262626" stroke-width="1.1"/>
<line x1="360" y1="1.6" x2="360" y2="7.9" stroke="#262626" stroke-width="1.1"/>
<line x1="389.42" y1="338.3" x2="389.42" y2="335.1" stroke="#262626" stroke-width="1.1"/>
<line x1="389.42" y1="1.6" x2="389.42" y2="4.8" stroke="#262626" stroke-width="1.1"/>
<line x1="407.15" y1="338.3" x2="407.15" y2="335.1" stroke="#262626" stroke-width="1.1"/>
<line x1="407.15" y1="1.6" x2="407.15" y2="4.8" stroke="#262626" stroke-width="1.1"/>
<line x1="424.88" y1="338.3" x2="424.88" y2="335.1" stroke="#262626" stroke-width="1.1"/>
<line x1="424.88" y1="1.6" x2="424.88" y2="4.8" stroke="#262626" stroke-width="1.1"/>
<line x1="442.6" y1="338.3" x2="442.6" y2="332" stroke="#262626" stroke-width="1.1"/>
<line x1="442.6" y1="1.6" x2="442.6" y2="7.9" stroke="#262626" stroke-width="1.1"/>
<line x1="460.32" y1="338.3" x2="460.32" y2="335.1" stroke="#262626" stroke-width="1.1"/>
<line x1="460.32" y1="1.6" x2="460.32" y2="4.8" stroke="#262626" stroke-width="1.1"/>
<line x1="478.05" y1="338.3" x2="478.05" y2="335.1" stroke="#262626" stroke-width="1.1"/>
<line x1="478.05" y1="1.6" x2="478.05" y2="4.8" stroke="#262626" stroke-width="1.1"/>
<line x1="495.77" y1="338.3" x2="495.77" y2="335.1" stroke="#262626" stroke-width="1.1"/>
<line x1="495.77" y1="1.6" x2="495.77" y2="4.8" stroke="#262626" stroke-width="1.1"/>
<line x1="513.5" y1="338.3" x2="513.5" y2="332" stroke="#262626" stroke-width="1.1"/>
<line x1="513.5" y1="1.6" x2="513.5" y2="7.9" stroke="#262626" stroke-width="1.1"/>
<line x1="531.23" y1="338.3" x2="531.23" y2="335.1" stroke="#262626" stroke-width="1.1"/>
<line x1="531.23" y1="1.6" x2="531.23" y2="4.8" stroke="#262626" stroke-width="1.1"/>
<line x1="548.95" y1="338.3" x2="548.95" y2="335.1" stroke="#262626" stroke-width="1.1"/>
<line x1="548.95" y1="1.6" x2="548.95" y2="4.8" stroke="#262626" stroke-width="1.1"/>
<line x1="566.67" y1="338.3" x2="566.67" y2="335.1" stroke="#262626" stroke-width="1.1"/>
<line x1="566.67" y1="1.6" x2="566.67" y2="4.8" stroke="#262626" stroke-width="1.1"/>
<line x1="584.4" y1="338.3" x2="584.4" y2="332" stroke="#262626" stroke-width="1.1"/>
<line x1="584.4" y1="1.6" x2="584.4" y2="7.9" stroke="#262626" stroke-width="1.1"/>
<line x1="602.12" y1="338.3" x2="602.12" y2="335.1" stroke="#262626" stroke-width="1.1"/>
<line x1="602.12" y1="1.6" x2="602.12" y2="4.8" stroke="#262626" stroke-width="1.1"/>
<line x1="619.85" y1="338.3" x2="619.85" y2="335.1" stroke="#262626" stroke-width="1.1"/>
<line x1="619.85" y1="1.6" x2="619.85" y2="4.8" stroke="#262626" stroke-width="1.1"/>
<line x1="637.58" y1="338.3" x2="637.58" y2="335.1" stroke="#262626" stroke-width="1.1"/>
<line x1="637.58" y1="1.6" x2="637.58" y2="4.8" stroke="#262626" stroke-width="1.1"/>
<line x1="655.3" y1="338.3" x2="655.3" y2="332" stroke="#262626" stroke-width="1.1"/>
<line x1="655.3" y1="1.6" x2="655.3" y2="7.9" stroke="#262626" stroke-width="1.1"/>
<line x1="673.02" y1="338.3" x2="673.02" y2="335.1" stroke="#262626" stroke-width="1.1"/>
<line x1="673.02" y1="1.6" x2="673.02" y2="4.8" stroke="#262626" stroke-width="1.1"/>
<line x1="690.75" y1="338.3" x2="690.75" y2="335.1" stroke="#262626" stroke-width="1.1"/>
<line x1="690.75" y1="1.6" x2="690.75" y2="4.8" stroke="#262626" stroke-width="1.1"/>
<rect x="37.5" y="1.6" width="660.5" height="336.7" fill="none" stroke="#262626" stroke-width="1.4"/>
<line x1="368.0" y1="1.6" x2="368.0" y2="338.3" stroke="#262626" stroke-width="1.4"/>
<text x="34.2" y="48.9" font-size="10.5" fill="#222" text-anchor="end" >–6</text>
<text x="34.2" y="120.25" font-size="10.5" fill="#222" text-anchor="end" >–5</text>
<text x="34.2" y="191.6" font-size="10.5" fill="#222" text-anchor="end" >–4</text>
<text x="34.2" y="262.95" font-size="10.5" fill="#222" text-anchor="end" >–3</text>
<text x="34.2" y="334.3" font-size="10.5" fill="#222" text-anchor="end" >–2</text>
<text x="42.3" y="351.8" font-size="10.5" fill="#222" text-anchor="middle" >–0.3</text>
<text x="94.75" y="351.8" font-size="10.5" fill="#222" text-anchor="middle" >–0.2</text>
<text x="147.2" y="351.8" font-size="10.5" fill="#222" text-anchor="middle" >–0.1</text>
<text x="203.35" y="351.8" font-size="10.5" fill="#222" text-anchor="middle" >0.0</text>
<text x="255.8" y="351.8" font-size="10.5" fill="#222" text-anchor="middle" >0.1</text>
<text x="308.25" y="351.8" font-size="10.5" fill="#222" text-anchor="middle" >0.2</text>
<text x="360.7" y="351.8" font-size="10.5" fill="#222" text-anchor="middle" >0.3</text>
<text x="440.6" y="351.8" font-size="10.5" fill="#222" text-anchor="middle" >–0.2</text>
<text x="514.8" y="351.8" font-size="10.5" fill="#222" text-anchor="middle" >0.0</text>
<text x="585.7" y="351.8" font-size="10.5" fill="#222" text-anchor="middle" >0.2</text>
<text x="656.6" y="351.8" font-size="10.5" fill="#222" text-anchor="middle" >0.4</text>
<text x="204.9" y="367.3" font-size="10.6" fill="#222" text-anchor="middle" >F435W – F555W (mag)</text>
<text x="532.4" y="367.3" font-size="10.6" fill="#222" text-anchor="middle" >F555W – F814W (mag)</text>
<text x="0" y="0" font-size="10.6" fill="#222" text-anchor="middle" transform="translate(9.9,170.3) rotate(-90)"><tspan font-style="italic">M</tspan><tspan font-size="7.4" dy="2.6">F555W</tspan><tspan dy="-2.6"> (mag)</tspan></text>
</svg>
</body></html>
